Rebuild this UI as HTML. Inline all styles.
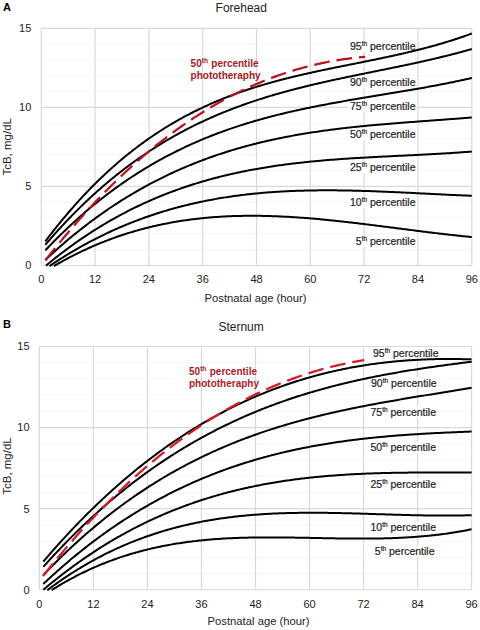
<!DOCTYPE html>
<html><head><meta charset="utf-8"><style>
html,body{margin:0;padding:0;background:#fff;}
svg{display:block;}
text{font-family:'Liberation Sans',sans-serif;}
</style></head><body>
<svg width="480" height="630" viewBox="0 0 480 630">
<rect width="480" height="630" fill="#fff"/>
<line x1="41.25" y1="249.69" x2="471.8" y2="249.69" stroke="#f5f5f5" stroke-width="1"/>
<line x1="41.25" y1="233.89" x2="471.8" y2="233.89" stroke="#f5f5f5" stroke-width="1"/>
<line x1="41.25" y1="218.08" x2="471.8" y2="218.08" stroke="#f5f5f5" stroke-width="1"/>
<line x1="41.25" y1="202.27" x2="471.8" y2="202.27" stroke="#f5f5f5" stroke-width="1"/>
<line x1="41.25" y1="170.66" x2="471.8" y2="170.66" stroke="#f5f5f5" stroke-width="1"/>
<line x1="41.25" y1="154.85" x2="471.8" y2="154.85" stroke="#f5f5f5" stroke-width="1"/>
<line x1="41.25" y1="139.05" x2="471.8" y2="139.05" stroke="#f5f5f5" stroke-width="1"/>
<line x1="41.25" y1="123.24" x2="471.8" y2="123.24" stroke="#f5f5f5" stroke-width="1"/>
<line x1="41.25" y1="91.63" x2="471.8" y2="91.63" stroke="#f5f5f5" stroke-width="1"/>
<line x1="41.25" y1="75.82" x2="471.8" y2="75.82" stroke="#f5f5f5" stroke-width="1"/>
<line x1="41.25" y1="60.01" x2="471.8" y2="60.01" stroke="#f5f5f5" stroke-width="1"/>
<line x1="41.25" y1="44.21" x2="471.8" y2="44.21" stroke="#f5f5f5" stroke-width="1"/>
<line x1="41.25" y1="265.50" x2="471.8" y2="265.50" stroke="#d9d9d9" stroke-width="1.2"/>
<line x1="41.25" y1="186.47" x2="471.8" y2="186.47" stroke="#d9d9d9" stroke-width="1.2"/>
<line x1="41.25" y1="107.43" x2="471.8" y2="107.43" stroke="#d9d9d9" stroke-width="1.2"/>
<line x1="41.25" y1="28.40" x2="471.8" y2="28.40" stroke="#d9d9d9" stroke-width="1.2"/>
<line x1="41.25" y1="28.4" x2="41.25" y2="265.5" stroke="#d9d9d9" stroke-width="1.2"/>
<line x1="95.07" y1="28.4" x2="95.07" y2="265.5" stroke="#d9d9d9" stroke-width="1.2"/>
<line x1="148.89" y1="28.4" x2="148.89" y2="265.5" stroke="#d9d9d9" stroke-width="1.2"/>
<line x1="202.71" y1="28.4" x2="202.71" y2="265.5" stroke="#d9d9d9" stroke-width="1.2"/>
<line x1="256.52" y1="28.4" x2="256.52" y2="265.5" stroke="#d9d9d9" stroke-width="1.2"/>
<line x1="310.34" y1="28.4" x2="310.34" y2="265.5" stroke="#d9d9d9" stroke-width="1.2"/>
<line x1="364.16" y1="28.4" x2="364.16" y2="265.5" stroke="#d9d9d9" stroke-width="1.2"/>
<line x1="417.98" y1="28.4" x2="417.98" y2="265.5" stroke="#d9d9d9" stroke-width="1.2"/>
<line x1="471.80" y1="28.4" x2="471.80" y2="265.5" stroke="#d9d9d9" stroke-width="1.2"/>
<rect x="348.0" y="40.1" width="69.0" height="11.5" fill="#fff"/>
<rect x="348.0" y="76.8" width="69.0" height="11.5" fill="#fff"/>
<rect x="348.0" y="100.5" width="69.0" height="11.5" fill="#fff"/>
<rect x="348.0" y="128.5" width="69.0" height="11.5" fill="#fff"/>
<rect x="348.0" y="161.8" width="69.0" height="11.5" fill="#fff"/>
<rect x="348.0" y="196.5" width="69.0" height="11.5" fill="#fff"/>
<rect x="354.0" y="235.5" width="63.0" height="11.5" fill="#fff"/>
<path d="M45.30 241.43 L46.80 239.44 L48.30 237.46 L49.81 235.51 L51.31 233.56 L52.81 231.64 L54.31 229.73 L55.81 227.84 L57.31 225.96 L58.82 224.10 L60.32 222.25 L61.82 220.42 L63.32 218.61 L64.82 216.81 L66.32 215.03 L67.83 213.26 L69.33 211.51 L70.83 209.77 L72.33 208.05 L73.83 206.34 L75.34 204.65 L76.84 202.98 L78.34 201.31 L79.84 199.67 L81.34 198.04 L82.84 196.42 L84.35 194.82 L85.85 193.23 L87.35 191.66 L88.85 190.10 L90.35 188.55 L91.85 187.02 L93.36 185.50 L94.86 184.00 L96.36 182.51 L97.86 181.04 L99.36 179.58 L100.87 178.13 L102.37 176.69 L103.87 175.27 L105.37 173.87 L106.87 172.47 L108.37 171.09 L109.88 169.73 L111.38 168.37 L112.88 167.03 L114.38 165.70 L115.88 164.39 L117.38 163.09 L118.89 161.80 L120.39 160.52 L121.89 159.25 L123.39 158.00 L124.89 156.76 L126.40 155.54 L127.90 154.32 L129.40 153.12 L130.90 151.93 L132.40 150.75 L133.90 149.58 L135.41 148.43 L136.91 147.28 L138.41 146.15 L139.91 145.03 L141.41 143.92 L142.91 142.82 L144.42 141.74 L145.92 140.66 L147.42 139.60 L148.92 138.55 L150.42 137.51 L151.93 136.48 L153.43 135.46 L154.93 134.45 L156.43 133.45 L157.93 132.46 L159.43 131.48 L160.94 130.52 L162.44 129.56 L163.94 128.62 L165.44 127.68 L166.94 126.75 L168.44 125.84 L169.95 124.93 L171.45 124.04 L172.95 123.15 L174.45 122.27 L175.95 121.41 L177.45 120.55 L178.96 119.70 L180.46 118.87 L181.96 118.04 L183.46 117.22 L184.96 116.41 L186.47 115.60 L187.97 114.81 L189.47 114.03 L190.97 113.25 L192.47 112.49 L193.97 111.73 L195.48 110.98 L196.98 110.24 L198.48 109.51 L199.98 108.78 L201.48 108.07 L202.98 107.36 L204.49 106.66 L205.99 105.97 L207.49 105.29 L208.99 104.61 L210.49 103.95 L212.00 103.29 L213.50 102.63 L215.00 101.99 L216.50 101.35 L218.00 100.72 L219.50 100.10 L221.01 99.48 L222.51 98.87 L224.01 98.27 L225.51 97.68 L227.01 97.09 L228.51 96.51 L230.02 95.94 L231.52 95.37 L233.02 94.81 L234.52 94.25 L236.02 93.70 L237.53 93.16 L239.03 92.63 L240.53 92.10 L242.03 91.57 L243.53 91.06 L245.03 90.55 L246.54 90.04 L248.04 89.54 L249.54 89.05 L251.04 88.56 L252.54 88.07 L254.04 87.60 L255.55 87.12 L257.05 86.66 L258.55 86.19 L260.05 85.74 L261.55 85.29 L263.06 84.84 L264.56 84.40 L266.06 83.96 L267.56 83.53 L269.06 83.10 L270.56 82.67 L272.07 82.25 L273.57 81.84 L275.07 81.43 L276.57 81.02 L278.07 80.62 L279.57 80.22 L281.08 79.83 L282.58 79.44 L284.08 79.05 L285.58 78.67 L287.08 78.29 L288.59 77.91 L290.09 77.54 L291.59 77.17 L293.09 76.81 L294.59 76.44 L296.09 76.08 L297.60 75.73 L299.10 75.38 L300.60 75.03 L302.10 74.68 L303.60 74.33 L305.10 73.99 L306.61 73.65 L308.11 73.31 L309.61 72.98 L311.11 72.65 L312.61 72.32 L314.12 71.99 L315.62 71.66 L317.12 71.34 L318.62 71.02 L320.12 70.70 L321.62 70.38 L323.13 70.06 L324.63 69.75 L326.13 69.43 L327.63 69.12 L329.13 68.81 L330.63 68.50 L332.14 68.19 L333.64 67.89 L335.14 67.58 L336.64 67.28 L338.14 66.97 L339.65 66.67 L341.15 66.36 L342.65 66.06 L344.15 65.76 L345.65 65.46 L347.15 65.16 L348.66 64.86 L350.16 64.56 L351.66 64.26 L353.16 63.96 L354.66 63.66 L356.16 63.36 L357.67 63.06 L359.17 62.76 L360.67 62.46 L362.17 62.15 L363.67 61.85 L365.18 61.55 L366.68 61.25 L368.18 60.94 L369.68 60.64 L371.18 60.33 L372.68 60.02 L374.19 59.72 L375.69 59.41 L377.19 59.10 L378.69 58.79 L380.19 58.47 L381.69 58.16 L383.20 57.84 L384.70 57.53 L386.20 57.21 L387.70 56.88 L389.20 56.56 L390.70 56.24 L392.21 55.91 L393.71 55.58 L395.21 55.25 L396.71 54.92 L398.21 54.58 L399.72 54.24 L401.22 53.90 L402.72 53.56 L404.22 53.21 L405.72 52.86 L407.22 52.51 L408.73 52.15 L410.23 51.79 L411.73 51.43 L413.23 51.07 L414.73 50.70 L416.23 50.33 L417.74 49.96 L419.24 49.58 L420.74 49.20 L422.24 48.81 L423.74 48.42 L425.25 48.03 L426.75 47.63 L428.25 47.23 L429.75 46.83 L431.25 46.42 L432.75 46.01 L434.26 45.59 L435.76 45.17 L437.26 44.74 L438.76 44.31 L440.26 43.87 L441.76 43.43 L443.27 42.99 L444.77 42.54 L446.27 42.08 L447.77 41.62 L449.27 41.16 L450.78 40.69 L452.28 40.21 L453.78 39.73 L455.28 39.24 L456.78 38.75 L458.28 38.25 L459.79 37.75 L461.29 37.24 L462.79 36.73 L464.29 36.20 L465.79 35.68 L467.29 35.14 L468.80 34.60 L470.30 34.06 L471.80 33.51" fill="none" stroke="#000" stroke-width="2" stroke-linejoin="round"/>
<path d="M45.30 244.77 L46.80 243.01 L48.30 241.27 L49.81 239.54 L51.31 237.83 L52.81 236.12 L54.31 234.43 L55.81 232.75 L57.31 231.09 L58.82 229.44 L60.32 227.80 L61.82 226.17 L63.32 224.56 L64.82 222.96 L66.32 221.37 L67.83 219.79 L69.33 218.23 L70.83 216.68 L72.33 215.14 L73.83 213.61 L75.34 212.10 L76.84 210.60 L78.34 209.10 L79.84 207.63 L81.34 206.16 L82.84 204.70 L84.35 203.26 L85.85 201.83 L87.35 200.41 L88.85 199.00 L90.35 197.61 L91.85 196.22 L93.36 194.85 L94.86 193.48 L96.36 192.13 L97.86 190.79 L99.36 189.46 L100.87 188.15 L102.37 186.84 L103.87 185.55 L105.37 184.26 L106.87 182.99 L108.37 181.72 L109.88 180.47 L111.38 179.23 L112.88 178.00 L114.38 176.78 L115.88 175.57 L117.38 174.37 L118.89 173.18 L120.39 172.00 L121.89 170.84 L123.39 169.68 L124.89 168.53 L126.40 167.39 L127.90 166.26 L129.40 165.15 L130.90 164.04 L132.40 162.94 L133.90 161.85 L135.41 160.77 L136.91 159.71 L138.41 158.65 L139.91 157.60 L141.41 156.56 L142.91 155.53 L144.42 154.50 L145.92 153.49 L147.42 152.49 L148.92 151.49 L150.42 150.51 L151.93 149.53 L153.43 148.57 L154.93 147.61 L156.43 146.66 L157.93 145.72 L159.43 144.79 L160.94 143.87 L162.44 142.95 L163.94 142.05 L165.44 141.15 L166.94 140.26 L168.44 139.38 L169.95 138.51 L171.45 137.65 L172.95 136.79 L174.45 135.95 L175.95 135.11 L177.45 134.28 L178.96 133.45 L180.46 132.64 L181.96 131.83 L183.46 131.03 L184.96 130.24 L186.47 129.46 L187.97 128.68 L189.47 127.91 L190.97 127.15 L192.47 126.40 L193.97 125.65 L195.48 124.91 L196.98 124.18 L198.48 123.45 L199.98 122.73 L201.48 122.02 L202.98 121.32 L204.49 120.62 L205.99 119.93 L207.49 119.25 L208.99 118.57 L210.49 117.90 L212.00 117.24 L213.50 116.58 L215.00 115.93 L216.50 115.29 L218.00 114.65 L219.50 114.02 L221.01 113.40 L222.51 112.78 L224.01 112.17 L225.51 111.56 L227.01 110.96 L228.51 110.37 L230.02 109.78 L231.52 109.20 L233.02 108.62 L234.52 108.05 L236.02 107.48 L237.53 106.92 L239.03 106.37 L240.53 105.82 L242.03 105.28 L243.53 104.74 L245.03 104.21 L246.54 103.68 L248.04 103.16 L249.54 102.64 L251.04 102.13 L252.54 101.62 L254.04 101.12 L255.55 100.62 L257.05 100.13 L258.55 99.64 L260.05 99.16 L261.55 98.68 L263.06 98.21 L264.56 97.74 L266.06 97.27 L267.56 96.81 L269.06 96.36 L270.56 95.90 L272.07 95.46 L273.57 95.01 L275.07 94.57 L276.57 94.14 L278.07 93.71 L279.57 93.28 L281.08 92.85 L282.58 92.43 L284.08 92.02 L285.58 91.61 L287.08 91.20 L288.59 90.79 L290.09 90.39 L291.59 89.99 L293.09 89.60 L294.59 89.20 L296.09 88.81 L297.60 88.43 L299.10 88.05 L300.60 87.67 L302.10 87.29 L303.60 86.92 L305.10 86.55 L306.61 86.18 L308.11 85.81 L309.61 85.45 L311.11 85.09 L312.61 84.73 L314.12 84.38 L315.62 84.03 L317.12 83.68 L318.62 83.33 L320.12 82.99 L321.62 82.64 L323.13 82.30 L324.63 81.96 L326.13 81.63 L327.63 81.29 L329.13 80.96 L330.63 80.63 L332.14 80.30 L333.64 79.97 L335.14 79.64 L336.64 79.32 L338.14 79.00 L339.65 78.68 L341.15 78.36 L342.65 78.04 L344.15 77.72 L345.65 77.40 L347.15 77.09 L348.66 76.77 L350.16 76.46 L351.66 76.15 L353.16 75.84 L354.66 75.53 L356.16 75.22 L357.67 74.91 L359.17 74.60 L360.67 74.30 L362.17 73.99 L363.67 73.68 L365.18 73.38 L366.68 73.07 L368.18 72.77 L369.68 72.46 L371.18 72.16 L372.68 71.86 L374.19 71.55 L375.69 71.25 L377.19 70.94 L378.69 70.64 L380.19 70.33 L381.69 70.03 L383.20 69.72 L384.70 69.42 L386.20 69.11 L387.70 68.81 L389.20 68.50 L390.70 68.19 L392.21 67.88 L393.71 67.58 L395.21 67.27 L396.71 66.96 L398.21 66.65 L399.72 66.33 L401.22 66.02 L402.72 65.71 L404.22 65.39 L405.72 65.07 L407.22 64.76 L408.73 64.44 L410.23 64.12 L411.73 63.79 L413.23 63.47 L414.73 63.15 L416.23 62.82 L417.74 62.49 L419.24 62.16 L420.74 61.83 L422.24 61.49 L423.74 61.16 L425.25 60.82 L426.75 60.48 L428.25 60.14 L429.75 59.80 L431.25 59.45 L432.75 59.10 L434.26 58.75 L435.76 58.40 L437.26 58.04 L438.76 57.68 L440.26 57.32 L441.76 56.96 L443.27 56.59 L444.77 56.22 L446.27 55.85 L447.77 55.48 L449.27 55.10 L450.78 54.72 L452.28 54.33 L453.78 53.95 L455.28 53.56 L456.78 53.16 L458.28 52.77 L459.79 52.37 L461.29 51.96 L462.79 51.56 L464.29 51.15 L465.79 50.73 L467.29 50.31 L468.80 49.89 L470.30 49.47 L471.80 49.04" fill="none" stroke="#000" stroke-width="2" stroke-linejoin="round"/>
<path d="M45.30 250.39 L46.80 248.80 L48.30 247.22 L49.81 245.66 L51.31 244.11 L52.81 242.57 L54.31 241.05 L55.81 239.53 L57.31 238.03 L58.82 236.54 L60.32 235.06 L61.82 233.59 L63.32 232.13 L64.82 230.69 L66.32 229.25 L67.83 227.83 L69.33 226.42 L70.83 225.02 L72.33 223.63 L73.83 222.25 L75.34 220.88 L76.84 219.52 L78.34 218.18 L79.84 216.84 L81.34 215.52 L82.84 214.20 L84.35 212.90 L85.85 211.61 L87.35 210.33 L88.85 209.06 L90.35 207.80 L91.85 206.55 L93.36 205.31 L94.86 204.08 L96.36 202.86 L97.86 201.65 L99.36 200.45 L100.87 199.26 L102.37 198.08 L103.87 196.92 L105.37 195.76 L106.87 194.61 L108.37 193.47 L109.88 192.34 L111.38 191.22 L112.88 190.11 L114.38 189.01 L115.88 187.92 L117.38 186.84 L118.89 185.77 L120.39 184.70 L121.89 183.65 L123.39 182.61 L124.89 181.57 L126.40 180.55 L127.90 179.53 L129.40 178.53 L130.90 177.53 L132.40 176.54 L133.90 175.56 L135.41 174.59 L136.91 173.62 L138.41 172.67 L139.91 171.73 L141.41 170.79 L142.91 169.86 L144.42 168.94 L145.92 168.03 L147.42 167.13 L148.92 166.24 L150.42 165.35 L151.93 164.47 L153.43 163.60 L154.93 162.74 L156.43 161.89 L157.93 161.04 L159.43 160.21 L160.94 159.38 L162.44 158.56 L163.94 157.74 L165.44 156.94 L166.94 156.14 L168.44 155.35 L169.95 154.57 L171.45 153.79 L172.95 153.03 L174.45 152.27 L175.95 151.51 L177.45 150.77 L178.96 150.03 L180.46 149.30 L181.96 148.58 L183.46 147.86 L184.96 147.15 L186.47 146.45 L187.97 145.75 L189.47 145.07 L190.97 144.38 L192.47 143.71 L193.97 143.04 L195.48 142.38 L196.98 141.73 L198.48 141.08 L199.98 140.44 L201.48 139.80 L202.98 139.17 L204.49 138.55 L205.99 137.94 L207.49 137.33 L208.99 136.72 L210.49 136.13 L212.00 135.54 L213.50 134.95 L215.00 134.37 L216.50 133.80 L218.00 133.23 L219.50 132.67 L221.01 132.11 L222.51 131.57 L224.01 131.02 L225.51 130.48 L227.01 129.95 L228.51 129.42 L230.02 128.90 L231.52 128.38 L233.02 127.87 L234.52 127.37 L236.02 126.87 L237.53 126.37 L239.03 125.88 L240.53 125.40 L242.03 124.92 L243.53 124.44 L245.03 123.97 L246.54 123.51 L248.04 123.05 L249.54 122.59 L251.04 122.14 L252.54 121.69 L254.04 121.25 L255.55 120.81 L257.05 120.38 L258.55 119.95 L260.05 119.53 L261.55 119.11 L263.06 118.69 L264.56 118.28 L266.06 117.88 L267.56 117.47 L269.06 117.07 L270.56 116.68 L272.07 116.29 L273.57 115.90 L275.07 115.52 L276.57 115.14 L278.07 114.76 L279.57 114.39 L281.08 114.02 L282.58 113.66 L284.08 113.30 L285.58 112.94 L287.08 112.59 L288.59 112.24 L290.09 111.89 L291.59 111.54 L293.09 111.20 L294.59 110.87 L296.09 110.53 L297.60 110.20 L299.10 109.87 L300.60 109.54 L302.10 109.22 L303.60 108.90 L305.10 108.58 L306.61 108.27 L308.11 107.96 L309.61 107.65 L311.11 107.34 L312.61 107.04 L314.12 106.73 L315.62 106.44 L317.12 106.14 L318.62 105.84 L320.12 105.55 L321.62 105.26 L323.13 104.97 L324.63 104.69 L326.13 104.40 L327.63 104.12 L329.13 103.84 L330.63 103.56 L332.14 103.28 L333.64 103.01 L335.14 102.74 L336.64 102.46 L338.14 102.19 L339.65 101.92 L341.15 101.66 L342.65 101.39 L344.15 101.13 L345.65 100.86 L347.15 100.60 L348.66 100.34 L350.16 100.08 L351.66 99.83 L353.16 99.57 L354.66 99.31 L356.16 99.06 L357.67 98.80 L359.17 98.55 L360.67 98.30 L362.17 98.04 L363.67 97.79 L365.18 97.54 L366.68 97.29 L368.18 97.04 L369.68 96.79 L371.18 96.54 L372.68 96.30 L374.19 96.05 L375.69 95.80 L377.19 95.55 L378.69 95.30 L380.19 95.06 L381.69 94.81 L383.20 94.56 L384.70 94.31 L386.20 94.07 L387.70 93.82 L389.20 93.57 L390.70 93.32 L392.21 93.07 L393.71 92.82 L395.21 92.57 L396.71 92.32 L398.21 92.07 L399.72 91.82 L401.22 91.57 L402.72 91.32 L404.22 91.06 L405.72 90.81 L407.22 90.55 L408.73 90.30 L410.23 90.04 L411.73 89.78 L413.23 89.52 L414.73 89.26 L416.23 89.00 L417.74 88.73 L419.24 88.47 L420.74 88.20 L422.24 87.94 L423.74 87.67 L425.25 87.40 L426.75 87.13 L428.25 86.85 L429.75 86.58 L431.25 86.30 L432.75 86.02 L434.26 85.74 L435.76 85.46 L437.26 85.17 L438.76 84.89 L440.26 84.60 L441.76 84.31 L443.27 84.01 L444.77 83.72 L446.27 83.42 L447.77 83.12 L449.27 82.82 L450.78 82.51 L452.28 82.21 L453.78 81.90 L455.28 81.58 L456.78 81.27 L458.28 80.95 L459.79 80.63 L461.29 80.31 L462.79 79.98 L464.29 79.65 L465.79 79.32 L467.29 78.98 L468.80 78.65 L470.30 78.30 L471.80 77.96" fill="none" stroke="#000" stroke-width="2" stroke-linejoin="round"/>
<path d="M45.40 259.91 L46.90 258.50 L48.40 257.10 L49.90 255.72 L51.41 254.34 L52.91 252.97 L54.41 251.61 L55.91 250.26 L57.41 248.93 L58.91 247.60 L60.41 246.28 L61.92 244.97 L63.42 243.67 L64.92 242.38 L66.42 241.11 L67.92 239.84 L69.42 238.58 L70.92 237.33 L72.43 236.08 L73.93 234.85 L75.43 233.63 L76.93 232.42 L78.43 231.22 L79.93 230.02 L81.43 228.84 L82.94 227.66 L84.44 226.50 L85.94 225.34 L87.44 224.19 L88.94 223.05 L90.44 221.92 L91.94 220.80 L93.45 219.69 L94.95 218.59 L96.45 217.49 L97.95 216.41 L99.45 215.33 L100.95 214.26 L102.45 213.20 L103.95 212.15 L105.46 211.11 L106.96 210.08 L108.46 209.05 L109.96 208.04 L111.46 207.03 L112.96 206.03 L114.46 205.04 L115.97 204.06 L117.47 203.08 L118.97 202.12 L120.47 201.16 L121.97 200.21 L123.47 199.27 L124.97 198.34 L126.48 197.41 L127.98 196.49 L129.48 195.58 L130.98 194.68 L132.48 193.79 L133.98 192.90 L135.48 192.03 L136.99 191.16 L138.49 190.30 L139.99 189.44 L141.49 188.59 L142.99 187.76 L144.49 186.92 L145.99 186.10 L147.50 185.29 L149.00 184.48 L150.50 183.68 L152.00 182.88 L153.50 182.09 L155.00 181.32 L156.50 180.54 L158.01 179.78 L159.51 179.02 L161.01 178.27 L162.51 177.53 L164.01 176.79 L165.51 176.06 L167.01 175.34 L168.52 174.63 L170.02 173.92 L171.52 173.22 L173.02 172.52 L174.52 171.83 L176.02 171.15 L177.52 170.48 L179.03 169.81 L180.53 169.15 L182.03 168.50 L183.53 167.85 L185.03 167.21 L186.53 166.57 L188.03 165.95 L189.54 165.32 L191.04 164.71 L192.54 164.10 L194.04 163.50 L195.54 162.90 L197.04 162.31 L198.54 161.73 L200.05 161.15 L201.55 160.58 L203.05 160.01 L204.55 159.45 L206.05 158.90 L207.55 158.35 L209.05 157.81 L210.55 157.27 L212.06 156.74 L213.56 156.21 L215.06 155.70 L216.56 155.18 L218.06 154.67 L219.56 154.17 L221.06 153.68 L222.57 153.19 L224.07 152.70 L225.57 152.22 L227.07 151.75 L228.57 151.28 L230.07 150.81 L231.57 150.35 L233.08 149.90 L234.58 149.45 L236.08 149.01 L237.58 148.57 L239.08 148.14 L240.58 147.71 L242.08 147.29 L243.59 146.87 L245.09 146.46 L246.59 146.05 L248.09 145.65 L249.59 145.25 L251.09 144.86 L252.59 144.47 L254.10 144.08 L255.60 143.70 L257.10 143.33 L258.60 142.96 L260.10 142.59 L261.60 142.23 L263.10 141.88 L264.61 141.52 L266.11 141.18 L267.61 140.83 L269.11 140.49 L270.61 140.16 L272.11 139.83 L273.61 139.50 L275.12 139.18 L276.62 138.86 L278.12 138.55 L279.62 138.24 L281.12 137.93 L282.62 137.63 L284.12 137.33 L285.63 137.03 L287.13 136.74 L288.63 136.46 L290.13 136.17 L291.63 135.89 L293.13 135.62 L294.63 135.35 L296.14 135.08 L297.64 134.81 L299.14 134.55 L300.64 134.29 L302.14 134.04 L303.64 133.79 L305.14 133.54 L306.65 133.29 L308.15 133.05 L309.65 132.81 L311.15 132.58 L312.65 132.35 L314.15 132.12 L315.65 131.89 L317.15 131.67 L318.66 131.45 L320.16 131.23 L321.66 131.02 L323.16 130.81 L324.66 130.60 L326.16 130.39 L327.66 130.19 L329.17 129.99 L330.67 129.79 L332.17 129.60 L333.67 129.41 L335.17 129.22 L336.67 129.03 L338.17 128.85 L339.68 128.66 L341.18 128.48 L342.68 128.31 L344.18 128.13 L345.68 127.96 L347.18 127.79 L348.68 127.62 L350.19 127.45 L351.69 127.29 L353.19 127.13 L354.69 126.97 L356.19 126.81 L357.69 126.65 L359.19 126.50 L360.70 126.35 L362.20 126.20 L363.70 126.05 L365.20 125.90 L366.70 125.75 L368.20 125.61 L369.70 125.47 L371.21 125.33 L372.71 125.19 L374.21 125.05 L375.71 124.92 L377.21 124.78 L378.71 124.65 L380.21 124.52 L381.72 124.39 L383.22 124.26 L384.72 124.13 L386.22 124.00 L387.72 123.88 L389.22 123.75 L390.72 123.63 L392.23 123.51 L393.73 123.39 L395.23 123.27 L396.73 123.15 L398.23 123.03 L399.73 122.91 L401.23 122.79 L402.74 122.68 L404.24 122.56 L405.74 122.45 L407.24 122.33 L408.74 122.22 L410.24 122.11 L411.74 121.99 L413.25 121.88 L414.75 121.77 L416.25 121.66 L417.75 121.55 L419.25 121.44 L420.75 121.33 L422.25 121.22 L423.75 121.11 L425.26 121.00 L426.76 120.89 L428.26 120.78 L429.76 120.67 L431.26 120.56 L432.76 120.45 L434.26 120.34 L435.77 120.23 L437.27 120.12 L438.77 120.01 L440.27 119.90 L441.77 119.79 L443.27 119.68 L444.77 119.57 L446.28 119.46 L447.78 119.35 L449.28 119.23 L450.78 119.12 L452.28 119.01 L453.78 118.89 L455.28 118.78 L456.79 118.66 L458.29 118.55 L459.79 118.43 L461.29 118.31 L462.79 118.19 L464.29 118.07 L465.79 117.95 L467.30 117.83 L468.80 117.71 L470.30 117.58 L471.80 117.46" fill="none" stroke="#000" stroke-width="2" stroke-linejoin="round"/>
<path d="M45.90 265.64 L47.40 264.40 L48.91 263.16 L50.41 261.93 L51.92 260.72 L53.42 259.51 L54.93 258.31 L56.43 257.12 L57.94 255.94 L59.44 254.78 L60.95 253.62 L62.45 252.47 L63.96 251.33 L65.46 250.20 L66.97 249.08 L68.47 247.96 L69.98 246.86 L71.48 245.77 L72.99 244.69 L74.49 243.61 L76.00 242.55 L77.50 241.49 L79.01 240.44 L80.51 239.41 L82.02 238.38 L83.52 237.36 L85.03 236.35 L86.53 235.34 L88.04 234.35 L89.54 233.37 L91.05 232.39 L92.55 231.42 L94.06 230.47 L95.56 229.52 L97.07 228.57 L98.57 227.64 L100.08 226.72 L101.58 225.80 L103.09 224.90 L104.59 224.00 L106.10 223.11 L107.60 222.23 L109.11 221.35 L110.61 220.49 L112.12 219.63 L113.62 218.78 L115.13 217.94 L116.63 217.11 L118.14 216.28 L119.64 215.46 L121.15 214.65 L122.65 213.85 L124.16 213.06 L125.66 212.27 L127.17 211.50 L128.67 210.73 L130.18 209.96 L131.68 209.21 L133.19 208.46 L134.69 207.72 L136.20 206.99 L137.70 206.26 L139.21 205.55 L140.71 204.84 L142.22 204.13 L143.72 203.44 L145.23 202.75 L146.73 202.07 L148.24 201.40 L149.74 200.73 L151.25 200.07 L152.75 199.42 L154.26 198.77 L155.76 198.13 L157.27 197.50 L158.77 196.88 L160.28 196.26 L161.78 195.65 L163.29 195.04 L164.79 194.44 L166.30 193.85 L167.80 193.27 L169.31 192.69 L170.81 192.12 L172.32 191.55 L173.82 191.00 L175.33 190.44 L176.83 189.90 L178.34 189.36 L179.84 188.82 L181.35 188.30 L182.85 187.78 L184.36 187.26 L185.86 186.75 L187.37 186.25 L188.87 185.75 L190.37 185.26 L191.88 184.78 L193.38 184.30 L194.89 183.83 L196.39 183.36 L197.90 182.90 L199.40 182.44 L200.91 181.99 L202.41 181.55 L203.92 181.11 L205.42 180.68 L206.93 180.25 L208.43 179.83 L209.94 179.41 L211.44 179.00 L212.95 178.59 L214.45 178.19 L215.96 177.80 L217.46 177.41 L218.97 177.02 L220.47 176.64 L221.98 176.27 L223.48 175.90 L224.99 175.53 L226.49 175.17 L228.00 174.82 L229.50 174.47 L231.01 174.12 L232.51 173.78 L234.02 173.44 L235.52 173.11 L237.03 172.79 L238.53 172.46 L240.04 172.15 L241.54 171.83 L243.05 171.53 L244.55 171.22 L246.06 170.92 L247.56 170.63 L249.07 170.34 L250.57 170.05 L252.08 169.77 L253.58 169.49 L255.09 169.22 L256.59 168.95 L258.10 168.68 L259.60 168.42 L261.11 168.16 L262.61 167.91 L264.12 167.66 L265.62 167.41 L267.13 167.17 L268.63 166.93 L270.14 166.70 L271.64 166.46 L273.15 166.24 L274.65 166.01 L276.16 165.79 L277.66 165.58 L279.17 165.36 L280.67 165.15 L282.18 164.95 L283.68 164.74 L285.19 164.54 L286.69 164.35 L288.20 164.15 L289.70 163.96 L291.21 163.78 L292.71 163.59 L294.22 163.41 L295.72 163.23 L297.23 163.06 L298.73 162.89 L300.24 162.72 L301.74 162.55 L303.25 162.39 L304.75 162.23 L306.26 162.07 L307.76 161.91 L309.27 161.76 L310.77 161.61 L312.28 161.46 L313.78 161.32 L315.29 161.17 L316.79 161.03 L318.30 160.90 L319.80 160.76 L321.31 160.63 L322.81 160.50 L324.32 160.37 L325.82 160.24 L327.33 160.12 L328.83 159.99 L330.33 159.87 L331.84 159.75 L333.34 159.64 L334.85 159.52 L336.35 159.41 L337.86 159.30 L339.36 159.19 L340.87 159.08 L342.37 158.98 L343.88 158.87 L345.38 158.77 L346.89 158.67 L348.39 158.57 L349.90 158.47 L351.40 158.37 L352.91 158.28 L354.41 158.18 L355.92 158.09 L357.42 158.00 L358.93 157.91 L360.43 157.82 L361.94 157.73 L363.44 157.65 L364.95 157.56 L366.45 157.48 L367.96 157.39 L369.46 157.31 L370.97 157.23 L372.47 157.15 L373.98 157.07 L375.48 156.99 L376.99 156.91 L378.49 156.83 L380.00 156.75 L381.50 156.68 L383.01 156.60 L384.51 156.53 L386.02 156.45 L387.52 156.38 L389.03 156.30 L390.53 156.23 L392.04 156.15 L393.54 156.08 L395.05 156.01 L396.55 155.93 L398.06 155.86 L399.56 155.79 L401.07 155.71 L402.57 155.64 L404.08 155.57 L405.58 155.49 L407.09 155.42 L408.59 155.35 L410.10 155.27 L411.60 155.20 L413.11 155.13 L414.61 155.05 L416.12 154.98 L417.62 154.90 L419.13 154.82 L420.63 154.75 L422.14 154.67 L423.64 154.59 L425.15 154.52 L426.65 154.44 L428.16 154.36 L429.66 154.28 L431.17 154.20 L432.67 154.11 L434.18 154.03 L435.68 153.95 L437.19 153.86 L438.69 153.78 L440.20 153.69 L441.70 153.60 L443.21 153.51 L444.71 153.42 L446.22 153.33 L447.72 153.24 L449.23 153.14 L450.73 153.05 L452.24 152.95 L453.74 152.85 L455.25 152.75 L456.75 152.65 L458.26 152.55 L459.76 152.44 L461.27 152.34 L462.77 152.23 L464.28 152.12 L465.78 152.01 L467.29 151.89 L468.79 151.78 L470.30 151.66 L471.80 151.54" fill="none" stroke="#000" stroke-width="2" stroke-linejoin="round"/>
<path d="M49.50 266.12 L51.00 265.11 L52.51 264.10 L54.01 263.10 L55.51 262.11 L57.01 261.13 L58.52 260.16 L60.02 259.20 L61.52 258.24 L63.03 257.30 L64.53 256.36 L66.03 255.43 L67.53 254.51 L69.04 253.59 L70.54 252.69 L72.04 251.79 L73.55 250.91 L75.05 250.03 L76.55 249.15 L78.05 248.29 L79.56 247.43 L81.06 246.59 L82.56 245.75 L84.07 244.92 L85.57 244.09 L87.07 243.28 L88.57 242.47 L90.08 241.67 L91.58 240.88 L93.08 240.09 L94.59 239.31 L96.09 238.55 L97.59 237.78 L99.09 237.03 L100.60 236.28 L102.10 235.55 L103.60 234.81 L105.11 234.09 L106.61 233.38 L108.11 232.67 L109.61 231.97 L111.12 231.27 L112.62 230.58 L114.12 229.91 L115.63 229.23 L117.13 228.57 L118.63 227.91 L120.13 227.26 L121.64 226.62 L123.14 225.98 L124.64 225.35 L126.15 224.73 L127.65 224.11 L129.15 223.50 L130.65 222.90 L132.16 222.31 L133.66 221.72 L135.16 221.14 L136.67 220.56 L138.17 220.00 L139.67 219.44 L141.17 218.88 L142.68 218.33 L144.18 217.79 L145.68 217.26 L147.19 216.73 L148.69 216.21 L150.19 215.69 L151.69 215.18 L153.20 214.68 L154.70 214.19 L156.20 213.70 L157.70 213.21 L159.21 212.74 L160.71 212.26 L162.21 211.80 L163.72 211.34 L165.22 210.89 L166.72 210.44 L168.22 210.00 L169.73 209.57 L171.23 209.14 L172.73 208.72 L174.24 208.30 L175.74 207.89 L177.24 207.48 L178.74 207.08 L180.25 206.69 L181.75 206.30 L183.25 205.92 L184.76 205.54 L186.26 205.17 L187.76 204.81 L189.26 204.45 L190.77 204.09 L192.27 203.74 L193.77 203.40 L195.28 203.06 L196.78 202.73 L198.28 202.40 L199.78 202.08 L201.29 201.76 L202.79 201.45 L204.29 201.14 L205.80 200.84 L207.30 200.55 L208.80 200.26 L210.30 199.97 L211.81 199.69 L213.31 199.41 L214.81 199.14 L216.32 198.87 L217.82 198.61 L219.32 198.36 L220.82 198.11 L222.33 197.86 L223.83 197.62 L225.33 197.38 L226.84 197.15 L228.34 196.92 L229.84 196.69 L231.34 196.47 L232.85 196.26 L234.35 196.05 L235.85 195.84 L237.36 195.64 L238.86 195.45 L240.36 195.25 L241.86 195.07 L243.37 194.88 L244.87 194.70 L246.37 194.53 L247.88 194.35 L249.38 194.19 L250.88 194.02 L252.38 193.87 L253.89 193.71 L255.39 193.56 L256.89 193.41 L258.40 193.27 L259.90 193.13 L261.40 192.99 L262.90 192.86 L264.41 192.74 L265.91 192.61 L267.41 192.49 L268.92 192.37 L270.42 192.26 L271.92 192.15 L273.42 192.05 L274.93 191.94 L276.43 191.85 L277.93 191.75 L279.44 191.66 L280.94 191.57 L282.44 191.49 L283.94 191.40 L285.45 191.33 L286.95 191.25 L288.45 191.18 L289.96 191.11 L291.46 191.04 L292.96 190.98 L294.46 190.92 L295.97 190.87 L297.47 190.81 L298.97 190.76 L300.48 190.72 L301.98 190.67 L303.48 190.63 L304.98 190.59 L306.49 190.55 L307.99 190.52 L309.49 190.49 L311.00 190.46 L312.50 190.44 L314.00 190.42 L315.50 190.40 L317.01 190.38 L318.51 190.37 L320.01 190.35 L321.52 190.34 L323.02 190.34 L324.52 190.33 L326.02 190.33 L327.53 190.33 L329.03 190.33 L330.53 190.33 L332.04 190.34 L333.54 190.35 L335.04 190.36 L336.54 190.37 L338.05 190.39 L339.55 190.41 L341.05 190.43 L342.56 190.45 L344.06 190.47 L345.56 190.49 L347.06 190.52 L348.57 190.55 L350.07 190.58 L351.57 190.61 L353.08 190.65 L354.58 190.68 L356.08 190.72 L357.58 190.76 L359.09 190.80 L360.59 190.84 L362.09 190.88 L363.60 190.93 L365.10 190.98 L366.60 191.02 L368.10 191.07 L369.61 191.12 L371.11 191.18 L372.61 191.23 L374.11 191.28 L375.62 191.34 L377.12 191.40 L378.62 191.45 L380.13 191.51 L381.63 191.57 L383.13 191.63 L384.63 191.70 L386.14 191.76 L387.64 191.82 L389.14 191.89 L390.65 191.95 L392.15 192.02 L393.65 192.09 L395.15 192.16 L396.66 192.22 L398.16 192.29 L399.66 192.36 L401.17 192.43 L402.67 192.51 L404.17 192.58 L405.67 192.65 L407.18 192.72 L408.68 192.80 L410.18 192.87 L411.69 192.94 L413.19 193.02 L414.69 193.09 L416.19 193.17 L417.70 193.24 L419.20 193.32 L420.70 193.39 L422.21 193.47 L423.71 193.55 L425.21 193.62 L426.71 193.70 L428.22 193.77 L429.72 193.85 L431.22 193.92 L432.73 194.00 L434.23 194.07 L435.73 194.15 L437.23 194.22 L438.74 194.30 L440.24 194.37 L441.74 194.45 L443.25 194.52 L444.75 194.59 L446.25 194.67 L447.75 194.74 L449.26 194.81 L450.76 194.88 L452.26 194.95 L453.77 195.02 L455.27 195.09 L456.77 195.16 L458.27 195.23 L459.78 195.30 L461.28 195.36 L462.78 195.43 L464.29 195.49 L465.79 195.56 L467.29 195.62 L468.79 195.68 L470.30 195.74 L471.80 195.80" fill="none" stroke="#000" stroke-width="2" stroke-linejoin="round"/>
<path d="M54.00 266.07 L55.50 265.19 L57.01 264.32 L58.51 263.46 L60.01 262.61 L61.51 261.77 L63.02 260.94 L64.52 260.12 L66.02 259.30 L67.53 258.50 L69.03 257.70 L70.53 256.92 L72.03 256.14 L73.54 255.37 L75.04 254.61 L76.54 253.86 L78.05 253.12 L79.55 252.39 L81.05 251.66 L82.55 250.95 L84.06 250.24 L85.56 249.54 L87.06 248.85 L88.57 248.17 L90.07 247.50 L91.57 246.83 L93.07 246.18 L94.58 245.53 L96.08 244.89 L97.58 244.26 L99.09 243.63 L100.59 243.02 L102.09 242.41 L103.59 241.81 L105.10 241.22 L106.60 240.64 L108.10 240.07 L109.61 239.50 L111.11 238.94 L112.61 238.39 L114.12 237.85 L115.62 237.31 L117.12 236.79 L118.62 236.27 L120.13 235.75 L121.63 235.25 L123.13 234.75 L124.64 234.26 L126.14 233.78 L127.64 233.31 L129.14 232.84 L130.65 232.38 L132.15 231.93 L133.65 231.48 L135.16 231.04 L136.66 230.61 L138.16 230.19 L139.66 229.77 L141.17 229.36 L142.67 228.96 L144.17 228.57 L145.68 228.18 L147.18 227.80 L148.68 227.42 L150.18 227.05 L151.69 226.69 L153.19 226.34 L154.69 225.99 L156.20 225.65 L157.70 225.31 L159.20 224.99 L160.70 224.67 L162.21 224.35 L163.71 224.04 L165.21 223.74 L166.72 223.44 L168.22 223.16 L169.72 222.87 L171.22 222.60 L172.73 222.33 L174.23 222.06 L175.73 221.80 L177.24 221.55 L178.74 221.30 L180.24 221.06 L181.74 220.83 L183.25 220.60 L184.75 220.38 L186.25 220.16 L187.76 219.95 L189.26 219.75 L190.76 219.55 L192.26 219.35 L193.77 219.17 L195.27 218.98 L196.77 218.81 L198.28 218.64 L199.78 218.47 L201.28 218.31 L202.78 218.16 L204.29 218.01 L205.79 217.86 L207.29 217.72 L208.80 217.59 L210.30 217.46 L211.80 217.34 L213.31 217.22 L214.81 217.10 L216.31 217.00 L217.81 216.89 L219.32 216.79 L220.82 216.70 L222.32 216.61 L223.83 216.53 L225.33 216.45 L226.83 216.37 L228.33 216.30 L229.84 216.24 L231.34 216.18 L232.84 216.12 L234.35 216.07 L235.85 216.02 L237.35 215.98 L238.85 215.94 L240.36 215.91 L241.86 215.88 L243.36 215.85 L244.87 215.83 L246.37 215.81 L247.87 215.80 L249.37 215.79 L250.88 215.79 L252.38 215.79 L253.88 215.79 L255.39 215.80 L256.89 215.81 L258.39 215.83 L259.89 215.84 L261.40 215.87 L262.90 215.89 L264.40 215.92 L265.91 215.96 L267.41 215.99 L268.91 216.04 L270.41 216.08 L271.92 216.13 L273.42 216.18 L274.92 216.23 L276.43 216.29 L277.93 216.35 L279.43 216.42 L280.93 216.49 L282.44 216.56 L283.94 216.63 L285.44 216.71 L286.95 216.79 L288.45 216.87 L289.95 216.96 L291.45 217.05 L292.96 217.14 L294.46 217.24 L295.96 217.34 L297.47 217.44 L298.97 217.54 L300.47 217.65 L301.97 217.76 L303.48 217.87 L304.98 217.98 L306.48 218.10 L307.99 218.22 L309.49 218.34 L310.99 218.46 L312.49 218.59 L314.00 218.72 L315.50 218.85 L317.00 218.98 L318.51 219.12 L320.01 219.26 L321.51 219.40 L323.02 219.54 L324.52 219.68 L326.02 219.83 L327.52 219.98 L329.03 220.13 L330.53 220.28 L332.03 220.43 L333.54 220.59 L335.04 220.75 L336.54 220.90 L338.04 221.06 L339.55 221.23 L341.05 221.39 L342.55 221.56 L344.06 221.72 L345.56 221.89 L347.06 222.06 L348.56 222.23 L350.07 222.40 L351.57 222.58 L353.07 222.75 L354.58 222.93 L356.08 223.11 L357.58 223.29 L359.08 223.47 L360.59 223.65 L362.09 223.83 L363.59 224.01 L365.10 224.19 L366.60 224.38 L368.10 224.56 L369.60 224.75 L371.11 224.94 L372.61 225.13 L374.11 225.31 L375.62 225.50 L377.12 225.69 L378.62 225.88 L380.12 226.07 L381.63 226.26 L383.13 226.46 L384.63 226.65 L386.14 226.84 L387.64 227.03 L389.14 227.23 L390.64 227.42 L392.15 227.61 L393.65 227.81 L395.15 228.00 L396.66 228.19 L398.16 228.39 L399.66 228.58 L401.16 228.78 L402.67 228.97 L404.17 229.16 L405.67 229.36 L407.18 229.55 L408.68 229.74 L410.18 229.93 L411.68 230.13 L413.19 230.32 L414.69 230.51 L416.19 230.70 L417.70 230.89 L419.20 231.08 L420.70 231.27 L422.21 231.46 L423.71 231.65 L425.21 231.83 L426.71 232.02 L428.22 232.21 L429.72 232.39 L431.22 232.57 L432.73 232.76 L434.23 232.94 L435.73 233.12 L437.23 233.30 L438.74 233.48 L440.24 233.66 L441.74 233.83 L443.25 234.01 L444.75 234.18 L446.25 234.36 L447.75 234.53 L449.26 234.70 L450.76 234.87 L452.26 235.03 L453.77 235.20 L455.27 235.36 L456.77 235.53 L458.27 235.69 L459.78 235.85 L461.28 236.00 L462.78 236.16 L464.29 236.31 L465.79 236.47 L467.29 236.62 L468.79 236.77 L470.30 236.91 L471.80 237.06" fill="none" stroke="#000" stroke-width="2" stroke-linejoin="round"/>
<path d="M45.40 260.38 L46.90 258.46 L48.40 256.55 L49.90 254.66 L51.41 252.77 L52.91 250.89 L54.41 249.03 L55.91 247.17 L57.41 245.32 L58.91 243.49 L60.41 241.66 L61.92 239.85 L63.42 238.04 L64.92 236.25 L66.42 234.46 L67.92 232.69 L69.42 230.92 L70.92 229.17 L72.43 227.42 L73.93 225.69 L75.43 223.96 L76.93 222.25 L78.43 220.54 L79.93 218.85 L81.43 217.16 L82.94 215.49 L84.44 213.82 L85.94 212.17 L87.44 210.52 L88.94 208.89 L90.44 207.26 L91.94 205.65 L93.45 204.04 L94.95 202.44 L96.45 200.86 L97.95 199.28 L99.45 197.71 L100.95 196.15 L102.45 194.61 L103.95 193.07 L105.46 191.54 L106.96 190.02 L108.46 188.51 L109.96 187.01 L111.46 185.52 L112.96 184.04 L114.46 182.57 L115.97 181.11 L117.47 179.66 L118.97 178.22 L120.47 176.78 L121.97 175.36 L123.47 173.95 L124.97 172.54 L126.48 171.15 L127.98 169.76 L129.48 168.38 L130.98 167.02 L132.48 165.66 L133.98 164.31 L135.48 162.97 L136.99 161.64 L138.49 160.32 L139.99 159.01 L141.49 157.71 L142.99 156.42 L144.49 155.13 L145.99 153.86 L147.50 152.59 L149.00 151.34 L150.50 150.09 L152.00 148.85 L153.50 147.62 L155.00 146.40 L156.50 145.19 L158.01 143.99 L159.51 142.80 L161.01 141.61 L162.51 140.44 L164.01 139.27 L165.51 138.11 L167.01 136.97 L168.52 135.83 L170.02 134.70 L171.52 133.58 L173.02 132.46 L174.52 131.36 L176.02 130.27 L177.52 129.18 L179.03 128.10 L180.53 127.03 L182.03 125.97 L183.53 124.92 L185.03 123.88 L186.53 122.85 L188.03 121.82 L189.54 120.81 L191.04 119.80 L192.54 118.80 L194.04 117.81 L195.54 116.83 L197.04 115.85 L198.54 114.89 L200.05 113.93 L201.55 112.99 L203.05 112.05 L204.55 111.12 L206.05 110.19 L207.55 109.28 L209.05 108.37 L210.55 107.48 L212.06 106.59 L213.56 105.71 L215.06 104.84 L216.56 103.97 L218.06 103.12 L219.56 102.27 L221.06 101.43 L222.57 100.60 L224.07 99.78 L225.57 98.97 L227.07 98.16 L228.57 97.36 L230.07 96.58 L231.57 95.79 L233.08 95.02 L234.58 94.26 L236.08 93.50 L237.58 92.75 L239.08 92.01 L240.58 91.28 L242.08 90.55 L243.59 89.84 L245.09 89.13 L246.59 88.43 L248.09 87.74 L249.59 87.05 L251.09 86.38 L252.59 85.71 L254.10 85.05 L255.60 84.39 L257.10 83.75 L258.60 83.11 L260.10 82.48 L261.60 81.86 L263.10 81.25 L264.61 80.64 L266.11 80.04 L267.61 79.45 L269.11 78.87 L270.61 78.30 L272.11 77.73 L273.61 77.17 L275.12 76.62 L276.62 76.07 L278.12 75.54 L279.62 75.01 L281.12 74.49 L282.62 73.97 L284.12 73.46 L285.63 72.97 L287.13 72.47 L288.63 71.99 L290.13 71.51 L291.63 71.04 L293.13 70.58 L294.63 70.13 L296.14 69.68 L297.64 69.24 L299.14 68.81 L300.64 68.39 L302.14 67.97 L303.64 67.56 L305.14 67.16 L306.65 66.76 L308.15 66.37 L309.65 65.99 L311.15 65.62 L312.65 65.25 L314.15 64.89 L315.65 64.54 L317.15 64.19 L318.66 63.86 L320.16 63.53 L321.66 63.20 L323.16 62.89 L324.66 62.58 L326.16 62.27 L327.66 61.98 L329.17 61.69 L330.67 61.41 L332.17 61.13 L333.67 60.87 L335.17 60.61 L336.67 60.35 L338.17 60.11 L339.68 59.87 L341.18 59.63 L342.68 59.41 L344.18 59.19 L345.68 58.97 L347.18 58.77 L348.68 58.57 L350.19 58.38 L351.69 58.19 L353.19 58.01 L354.69 57.84 L356.19 57.68 L357.69 57.52 L359.19 57.37 L360.70 57.22 L362.20 57.08 L363.70 56.95 L365.20 56.82" fill="none" stroke="#b81424" stroke-width="2.25" stroke-dasharray="15.7 6.9"/>
<text x="31.3" y="269.40" text-anchor="end" font-size="11" fill="#222">0</text>
<text x="31.3" y="190.37" text-anchor="end" font-size="11" fill="#222">5</text>
<text x="31.3" y="111.33" text-anchor="end" font-size="11" fill="#222">10</text>
<text x="31.3" y="32.30" text-anchor="end" font-size="11" fill="#222">15</text>
<text x="41.25" y="283" text-anchor="middle" font-size="11" fill="#222">0</text>
<text x="95.07" y="283" text-anchor="middle" font-size="11" fill="#222">12</text>
<text x="148.89" y="283" text-anchor="middle" font-size="11" fill="#222">24</text>
<text x="202.71" y="283" text-anchor="middle" font-size="11" fill="#222">36</text>
<text x="256.52" y="283" text-anchor="middle" font-size="11" fill="#222">48</text>
<text x="310.34" y="283" text-anchor="middle" font-size="11" fill="#222">60</text>
<text x="364.16" y="283" text-anchor="middle" font-size="11" fill="#222">72</text>
<text x="417.98" y="283" text-anchor="middle" font-size="11" fill="#222">84</text>
<text x="471.80" y="283" text-anchor="middle" font-size="11" fill="#222">96</text>
<text x="215.6" y="11.6" font-size="12" fill="#222">Forehead</text>
<text x="204.6" y="302" font-size="11.25" fill="#222">Postnatal age (hour)</text>
<text transform="translate(10.7,146.8) rotate(-90)" text-anchor="middle" font-size="11.5" fill="#222">TcB, mg/dL</text>
<text x="3" y="10.8" font-size="11" font-weight="bold" fill="#000">A</text>
<text x="415.5" y="49.6" text-anchor="end" font-size="10.5" fill="#262626" stroke="#262626" stroke-width="0.22">95<tspan font-size="6.5" dy="-3.9">th</tspan><tspan dy="3.9"> percentile</tspan></text>
<text x="415.5" y="86.3" text-anchor="end" font-size="10.5" fill="#262626" stroke="#262626" stroke-width="0.22">90<tspan font-size="6.5" dy="-3.9">th</tspan><tspan dy="3.9"> percentile</tspan></text>
<text x="415.5" y="110" text-anchor="end" font-size="10.5" fill="#262626" stroke="#262626" stroke-width="0.22">75<tspan font-size="6.5" dy="-3.9">th</tspan><tspan dy="3.9"> percentile</tspan></text>
<text x="415.5" y="138" text-anchor="end" font-size="10.5" fill="#262626" stroke="#262626" stroke-width="0.22">50<tspan font-size="6.5" dy="-3.9">th</tspan><tspan dy="3.9"> percentile</tspan></text>
<text x="415.5" y="171.3" text-anchor="end" font-size="10.5" fill="#262626" stroke="#262626" stroke-width="0.22">25<tspan font-size="6.5" dy="-3.9">th</tspan><tspan dy="3.9"> percentile</tspan></text>
<text x="415.5" y="206" text-anchor="end" font-size="10.5" fill="#262626" stroke="#262626" stroke-width="0.22">10<tspan font-size="6.5" dy="-3.9">th</tspan><tspan dy="3.9"> percentile</tspan></text>
<text x="415.5" y="245" text-anchor="end" font-size="10.5" fill="#262626" stroke="#262626" stroke-width="0.22">5<tspan font-size="6.5" dy="-3.9">th</tspan><tspan dy="3.9"> percentile</tspan></text>
<text x="190.6" y="66.6" font-size="10" font-weight="bold" fill="#a41a26">50<tspan font-size="6.6" dy="-4.1">th</tspan><tspan dy="4.1" dx="0.6"> percentile</tspan></text>
<text x="190.6" y="79.2" font-size="10" font-weight="bold" fill="#a41a26">phototheraphy</text>
<line x1="39.4" y1="573.53" x2="471.6" y2="573.53" stroke="#f5f5f5" stroke-width="1"/>
<line x1="39.4" y1="557.32" x2="471.6" y2="557.32" stroke="#f5f5f5" stroke-width="1"/>
<line x1="39.4" y1="541.10" x2="471.6" y2="541.10" stroke="#f5f5f5" stroke-width="1"/>
<line x1="39.4" y1="524.88" x2="471.6" y2="524.88" stroke="#f5f5f5" stroke-width="1"/>
<line x1="39.4" y1="492.45" x2="471.6" y2="492.45" stroke="#f5f5f5" stroke-width="1"/>
<line x1="39.4" y1="476.23" x2="471.6" y2="476.23" stroke="#f5f5f5" stroke-width="1"/>
<line x1="39.4" y1="460.02" x2="471.6" y2="460.02" stroke="#f5f5f5" stroke-width="1"/>
<line x1="39.4" y1="443.80" x2="471.6" y2="443.80" stroke="#f5f5f5" stroke-width="1"/>
<line x1="39.4" y1="411.37" x2="471.6" y2="411.37" stroke="#f5f5f5" stroke-width="1"/>
<line x1="39.4" y1="395.15" x2="471.6" y2="395.15" stroke="#f5f5f5" stroke-width="1"/>
<line x1="39.4" y1="378.93" x2="471.6" y2="378.93" stroke="#f5f5f5" stroke-width="1"/>
<line x1="39.4" y1="362.72" x2="471.6" y2="362.72" stroke="#f5f5f5" stroke-width="1"/>
<line x1="39.4" y1="589.75" x2="471.6" y2="589.75" stroke="#d9d9d9" stroke-width="1.2"/>
<line x1="39.4" y1="508.67" x2="471.6" y2="508.67" stroke="#d9d9d9" stroke-width="1.2"/>
<line x1="39.4" y1="427.58" x2="471.6" y2="427.58" stroke="#d9d9d9" stroke-width="1.2"/>
<line x1="39.4" y1="346.50" x2="471.6" y2="346.50" stroke="#d9d9d9" stroke-width="1.2"/>
<line x1="39.40" y1="346.5" x2="39.40" y2="589.75" stroke="#d9d9d9" stroke-width="1.2"/>
<line x1="93.43" y1="346.5" x2="93.43" y2="589.75" stroke="#d9d9d9" stroke-width="1.2"/>
<line x1="147.45" y1="346.5" x2="147.45" y2="589.75" stroke="#d9d9d9" stroke-width="1.2"/>
<line x1="201.48" y1="346.5" x2="201.48" y2="589.75" stroke="#d9d9d9" stroke-width="1.2"/>
<line x1="255.50" y1="346.5" x2="255.50" y2="589.75" stroke="#d9d9d9" stroke-width="1.2"/>
<line x1="309.52" y1="346.5" x2="309.52" y2="589.75" stroke="#d9d9d9" stroke-width="1.2"/>
<line x1="363.55" y1="346.5" x2="363.55" y2="589.75" stroke="#d9d9d9" stroke-width="1.2"/>
<line x1="417.58" y1="346.5" x2="417.58" y2="589.75" stroke="#d9d9d9" stroke-width="1.2"/>
<line x1="471.60" y1="346.5" x2="471.60" y2="589.75" stroke="#d9d9d9" stroke-width="1.2"/>
<rect x="371.0" y="347.3" width="69.0" height="11.5" fill="#fff"/>
<rect x="369.1" y="377.0" width="69.0" height="11.5" fill="#fff"/>
<rect x="368.5" y="406.3" width="69.0" height="11.5" fill="#fff"/>
<rect x="368.5" y="441.8" width="69.0" height="11.5" fill="#fff"/>
<rect x="368.5" y="478.0" width="69.0" height="11.5" fill="#fff"/>
<rect x="368.5" y="521.3" width="69.0" height="11.5" fill="#fff"/>
<rect x="373.0" y="545.7" width="63.0" height="11.5" fill="#fff"/>
<path d="M43.30 561.58 L44.80 559.82 L46.31 558.07 L47.81 556.33 L49.31 554.60 L50.81 552.88 L52.32 551.17 L53.82 549.47 L55.32 547.77 L56.83 546.09 L58.33 544.41 L59.83 542.75 L61.33 541.09 L62.84 539.44 L64.34 537.80 L65.84 536.18 L67.34 534.56 L68.85 532.94 L70.35 531.34 L71.85 529.75 L73.36 528.17 L74.86 526.59 L76.36 525.03 L77.86 523.47 L79.37 521.92 L80.87 520.38 L82.37 518.85 L83.88 517.33 L85.38 515.82 L86.88 514.32 L88.38 512.82 L89.89 511.34 L91.39 509.86 L92.89 508.39 L94.40 506.93 L95.90 505.48 L97.40 504.04 L98.90 502.60 L100.41 501.18 L101.91 499.76 L103.41 498.36 L104.92 496.96 L106.42 495.57 L107.92 494.19 L109.42 492.81 L110.93 491.45 L112.43 490.09 L113.93 488.74 L115.43 487.40 L116.94 486.07 L118.44 484.75 L119.94 483.44 L121.45 482.13 L122.95 480.83 L124.45 479.54 L125.95 478.26 L127.46 476.99 L128.96 475.73 L130.46 474.47 L131.97 473.22 L133.47 471.98 L134.97 470.75 L136.47 469.53 L137.98 468.31 L139.48 467.10 L140.98 465.90 L142.49 464.71 L143.99 463.53 L145.49 462.35 L146.99 461.19 L148.50 460.03 L150.00 458.88 L151.50 457.73 L153.00 456.60 L154.51 455.47 L156.01 454.35 L157.51 453.24 L159.02 452.13 L160.52 451.04 L162.02 449.95 L163.52 448.87 L165.03 447.80 L166.53 446.73 L168.03 445.67 L169.54 444.62 L171.04 443.58 L172.54 442.54 L174.04 441.52 L175.55 440.50 L177.05 439.49 L178.55 438.48 L180.06 437.48 L181.56 436.49 L183.06 435.51 L184.56 434.54 L186.07 433.57 L187.57 432.61 L189.07 431.66 L190.58 430.71 L192.08 429.78 L193.58 428.84 L195.08 427.92 L196.59 427.01 L198.09 426.10 L199.59 425.20 L201.09 424.30 L202.60 423.41 L204.10 422.53 L205.60 421.66 L207.11 420.80 L208.61 419.94 L210.11 419.09 L211.61 418.24 L213.12 417.40 L214.62 416.57 L216.12 415.75 L217.63 414.93 L219.13 414.12 L220.63 413.32 L222.13 412.53 L223.64 411.74 L225.14 410.96 L226.64 410.18 L228.15 409.41 L229.65 408.65 L231.15 407.90 L232.65 407.15 L234.16 406.41 L235.66 405.67 L237.16 404.95 L238.66 404.22 L240.17 403.51 L241.67 402.80 L243.17 402.10 L244.68 401.41 L246.18 400.72 L247.68 400.04 L249.18 399.36 L250.69 398.69 L252.19 398.03 L253.69 397.37 L255.20 396.73 L256.70 396.08 L258.20 395.45 L259.70 394.82 L261.21 394.19 L262.71 393.58 L264.21 392.96 L265.72 392.36 L267.22 391.76 L268.72 391.17 L270.22 390.58 L271.73 390.00 L273.23 389.43 L274.73 388.86 L276.24 388.30 L277.74 387.74 L279.24 387.20 L280.74 386.65 L282.25 386.11 L283.75 385.58 L285.25 385.06 L286.75 384.54 L288.26 384.03 L289.76 383.52 L291.26 383.02 L292.77 382.52 L294.27 382.03 L295.77 381.55 L297.27 381.07 L298.78 380.60 L300.28 380.13 L301.78 379.67 L303.29 379.22 L304.79 378.77 L306.29 378.32 L307.79 377.89 L309.30 377.45 L310.80 377.03 L312.30 376.61 L313.81 376.19 L315.31 375.78 L316.81 375.38 L318.31 374.98 L319.82 374.59 L321.32 374.20 L322.82 373.82 L324.32 373.44 L325.83 373.07 L327.33 372.70 L328.83 372.34 L330.34 371.99 L331.84 371.64 L333.34 371.29 L334.84 370.95 L336.35 370.62 L337.85 370.29 L339.35 369.96 L340.86 369.65 L342.36 369.33 L343.86 369.02 L345.36 368.72 L346.87 368.42 L348.37 368.13 L349.87 367.84 L351.38 367.56 L352.88 367.28 L354.38 367.01 L355.88 366.74 L357.39 366.48 L358.89 366.22 L360.39 365.97 L361.90 365.72 L363.40 365.48 L364.90 365.24 L366.40 365.01 L367.91 364.78 L369.41 364.55 L370.91 364.34 L372.41 364.12 L373.92 363.91 L375.42 363.71 L376.92 363.51 L378.43 363.31 L379.93 363.12 L381.43 362.93 L382.93 362.75 L384.44 362.58 L385.94 362.40 L387.44 362.24 L388.95 362.07 L390.45 361.91 L391.95 361.76 L393.45 361.61 L394.96 361.46 L396.46 361.32 L397.96 361.18 L399.47 361.05 L400.97 360.92 L402.47 360.80 L403.97 360.68 L405.48 360.57 L406.98 360.45 L408.48 360.35 L409.98 360.24 L411.49 360.15 L412.99 360.05 L414.49 359.96 L416.00 359.88 L417.50 359.79 L419.00 359.72 L420.50 359.64 L422.01 359.57 L423.51 359.51 L425.01 359.45 L426.52 359.39 L428.02 359.33 L429.52 359.28 L431.02 359.24 L432.53 359.20 L434.03 359.16 L435.53 359.12 L437.04 359.09 L438.54 359.07 L440.04 359.04 L441.54 359.02 L443.05 359.01 L444.55 359.00 L446.05 358.99 L447.56 358.98 L449.06 358.98 L450.56 358.99 L452.06 358.99 L453.57 359.00 L455.07 359.02 L456.57 359.03 L458.07 359.05 L459.58 359.08 L461.08 359.11 L462.58 359.14 L464.09 359.17 L465.59 359.21 L467.09 359.25 L468.59 359.29 L470.10 359.34 L471.60 359.39" fill="none" stroke="#000" stroke-width="2" stroke-linejoin="round"/>
<path d="M43.30 566.81 L44.80 565.13 L46.31 563.47 L47.81 561.81 L49.31 560.17 L50.81 558.53 L52.32 556.90 L53.82 555.28 L55.32 553.67 L56.83 552.08 L58.33 550.49 L59.83 548.91 L61.33 547.34 L62.84 545.77 L64.34 544.22 L65.84 542.68 L67.34 541.15 L68.85 539.62 L70.35 538.11 L71.85 536.60 L73.36 535.11 L74.86 533.62 L76.36 532.14 L77.86 530.67 L79.37 529.21 L80.87 527.76 L82.37 526.32 L83.88 524.88 L85.38 523.46 L86.88 522.04 L88.38 520.64 L89.89 519.24 L91.39 517.85 L92.89 516.47 L94.40 515.10 L95.90 513.73 L97.40 512.38 L98.90 511.03 L100.41 509.70 L101.91 508.37 L103.41 507.05 L104.92 505.73 L106.42 504.43 L107.92 503.14 L109.42 501.85 L110.93 500.57 L112.43 499.30 L113.93 498.04 L115.43 496.79 L116.94 495.54 L118.44 494.31 L119.94 493.08 L121.45 491.86 L122.95 490.64 L124.45 489.44 L125.95 488.24 L127.46 487.05 L128.96 485.87 L130.46 484.70 L131.97 483.54 L133.47 482.38 L134.97 481.23 L136.47 480.09 L137.98 478.96 L139.48 477.83 L140.98 476.72 L142.49 475.61 L143.99 474.50 L145.49 473.41 L146.99 472.32 L148.50 471.24 L150.00 470.17 L151.50 469.11 L153.00 468.05 L154.51 467.00 L156.01 465.96 L157.51 464.92 L159.02 463.89 L160.52 462.87 L162.02 461.86 L163.52 460.86 L165.03 459.86 L166.53 458.87 L168.03 457.88 L169.54 456.91 L171.04 455.94 L172.54 454.97 L174.04 454.02 L175.55 453.07 L177.05 452.13 L178.55 451.19 L180.06 450.26 L181.56 449.34 L183.06 448.43 L184.56 447.52 L186.07 446.62 L187.57 445.73 L189.07 444.84 L190.58 443.96 L192.08 443.09 L193.58 442.22 L195.08 441.36 L196.59 440.50 L198.09 439.66 L199.59 438.82 L201.09 437.98 L202.60 437.15 L204.10 436.33 L205.60 435.52 L207.11 434.71 L208.61 433.90 L210.11 433.11 L211.61 432.32 L213.12 431.53 L214.62 430.75 L216.12 429.98 L217.63 429.22 L219.13 428.46 L220.63 427.70 L222.13 426.96 L223.64 426.22 L225.14 425.48 L226.64 424.75 L228.15 424.03 L229.65 423.31 L231.15 422.60 L232.65 421.89 L234.16 421.19 L235.66 420.49 L237.16 419.81 L238.66 419.12 L240.17 418.44 L241.67 417.77 L243.17 417.11 L244.68 416.45 L246.18 415.79 L247.68 415.14 L249.18 414.49 L250.69 413.86 L252.19 413.22 L253.69 412.59 L255.20 411.97 L256.70 411.35 L258.20 410.74 L259.70 410.13 L261.21 409.53 L262.71 408.93 L264.21 408.34 L265.72 407.75 L267.22 407.17 L268.72 406.60 L270.22 406.03 L271.73 405.46 L273.23 404.90 L274.73 404.34 L276.24 403.79 L277.74 403.24 L279.24 402.70 L280.74 402.16 L282.25 401.63 L283.75 401.10 L285.25 400.58 L286.75 400.06 L288.26 399.54 L289.76 399.03 L291.26 398.53 L292.77 398.03 L294.27 397.53 L295.77 397.04 L297.27 396.56 L298.78 396.07 L300.28 395.59 L301.78 395.12 L303.29 394.65 L304.79 394.19 L306.29 393.73 L307.79 393.27 L309.30 392.82 L310.80 392.37 L312.30 391.92 L313.81 391.48 L315.31 391.05 L316.81 390.61 L318.31 390.19 L319.82 389.76 L321.32 389.34 L322.82 388.93 L324.32 388.51 L325.83 388.10 L327.33 387.70 L328.83 387.30 L330.34 386.90 L331.84 386.51 L333.34 386.12 L334.84 385.73 L336.35 385.35 L337.85 384.97 L339.35 384.59 L340.86 384.22 L342.36 383.85 L343.86 383.49 L345.36 383.13 L346.87 382.77 L348.37 382.41 L349.87 382.06 L351.38 381.71 L352.88 381.37 L354.38 381.03 L355.88 380.69 L357.39 380.35 L358.89 380.02 L360.39 379.69 L361.90 379.36 L363.40 379.04 L364.90 378.72 L366.40 378.40 L367.91 378.09 L369.41 377.78 L370.91 377.47 L372.41 377.16 L373.92 376.86 L375.42 376.56 L376.92 376.26 L378.43 375.97 L379.93 375.68 L381.43 375.39 L382.93 375.10 L384.44 374.82 L385.94 374.54 L387.44 374.26 L388.95 373.98 L390.45 373.71 L391.95 373.44 L393.45 373.17 L394.96 372.90 L396.46 372.64 L397.96 372.38 L399.47 372.12 L400.97 371.86 L402.47 371.61 L403.97 371.35 L405.48 371.10 L406.98 370.85 L408.48 370.61 L409.98 370.36 L411.49 370.12 L412.99 369.88 L414.49 369.64 L416.00 369.41 L417.50 369.17 L419.00 368.94 L420.50 368.71 L422.01 368.48 L423.51 368.25 L425.01 368.03 L426.52 367.80 L428.02 367.58 L429.52 367.36 L431.02 367.14 L432.53 366.92 L434.03 366.71 L435.53 366.49 L437.04 366.28 L438.54 366.07 L440.04 365.86 L441.54 365.65 L443.05 365.44 L444.55 365.24 L446.05 365.03 L447.56 364.83 L449.06 364.63 L450.56 364.43 L452.06 364.23 L453.57 364.03 L455.07 363.83 L456.57 363.64 L458.07 363.44 L459.58 363.25 L461.08 363.06 L462.58 362.86 L464.09 362.67 L465.59 362.48 L467.09 362.29 L468.59 362.10 L470.10 361.92 L471.60 361.73" fill="none" stroke="#000" stroke-width="2" stroke-linejoin="round"/>
<path d="M43.30 575.14 L44.80 573.56 L46.31 571.99 L47.81 570.43 L49.31 568.88 L50.81 567.34 L52.32 565.82 L53.82 564.30 L55.32 562.79 L56.83 561.29 L58.33 559.80 L59.83 558.32 L61.33 556.84 L62.84 555.38 L64.34 553.93 L65.84 552.49 L67.34 551.06 L68.85 549.64 L70.35 548.22 L71.85 546.82 L73.36 545.43 L74.86 544.04 L76.36 542.67 L77.86 541.30 L79.37 539.94 L80.87 538.60 L82.37 537.26 L83.88 535.93 L85.38 534.61 L86.88 533.30 L88.38 532.00 L89.89 530.70 L91.39 529.42 L92.89 528.15 L94.40 526.88 L95.90 525.62 L97.40 524.38 L98.90 523.14 L100.41 521.91 L101.91 520.68 L103.41 519.47 L104.92 518.27 L106.42 517.07 L107.92 515.88 L109.42 514.70 L110.93 513.53 L112.43 512.37 L113.93 511.22 L115.43 510.07 L116.94 508.93 L118.44 507.81 L119.94 506.69 L121.45 505.57 L122.95 504.47 L124.45 503.37 L125.95 502.29 L127.46 501.21 L128.96 500.13 L130.46 499.07 L131.97 498.01 L133.47 496.97 L134.97 495.93 L136.47 494.89 L137.98 493.87 L139.48 492.85 L140.98 491.84 L142.49 490.84 L143.99 489.85 L145.49 488.86 L146.99 487.88 L148.50 486.91 L150.00 485.95 L151.50 484.99 L153.00 484.04 L154.51 483.10 L156.01 482.17 L157.51 481.24 L159.02 480.32 L160.52 479.41 L162.02 478.50 L163.52 477.61 L165.03 476.72 L166.53 475.83 L168.03 474.95 L169.54 474.08 L171.04 473.22 L172.54 472.37 L174.04 471.52 L175.55 470.67 L177.05 469.84 L178.55 469.01 L180.06 468.19 L181.56 467.37 L183.06 466.56 L184.56 465.76 L186.07 464.96 L187.57 464.17 L189.07 463.39 L190.58 462.62 L192.08 461.85 L193.58 461.08 L195.08 460.32 L196.59 459.57 L198.09 458.83 L199.59 458.09 L201.09 457.36 L202.60 456.63 L204.10 455.91 L205.60 455.20 L207.11 454.49 L208.61 453.79 L210.11 453.09 L211.61 452.40 L213.12 451.71 L214.62 451.04 L216.12 450.36 L217.63 449.70 L219.13 449.03 L220.63 448.38 L222.13 447.73 L223.64 447.08 L225.14 446.44 L226.64 445.81 L228.15 445.18 L229.65 444.56 L231.15 443.94 L232.65 443.33 L234.16 442.72 L235.66 442.12 L237.16 441.53 L238.66 440.93 L240.17 440.35 L241.67 439.77 L243.17 439.19 L244.68 438.62 L246.18 438.06 L247.68 437.50 L249.18 436.94 L250.69 436.39 L252.19 435.84 L253.69 435.30 L255.20 434.77 L256.70 434.23 L258.20 433.71 L259.70 433.18 L261.21 432.67 L262.71 432.15 L264.21 431.65 L265.72 431.14 L267.22 430.64 L268.72 430.15 L270.22 429.66 L271.73 429.17 L273.23 428.69 L274.73 428.21 L276.24 427.74 L277.74 427.27 L279.24 426.80 L280.74 426.34 L282.25 425.88 L283.75 425.43 L285.25 424.98 L286.75 424.54 L288.26 424.10 L289.76 423.66 L291.26 423.22 L292.77 422.79 L294.27 422.37 L295.77 421.95 L297.27 421.53 L298.78 421.11 L300.28 420.70 L301.78 420.30 L303.29 419.89 L304.79 419.49 L306.29 419.09 L307.79 418.70 L309.30 418.31 L310.80 417.92 L312.30 417.54 L313.81 417.16 L315.31 416.78 L316.81 416.41 L318.31 416.04 L319.82 415.67 L321.32 415.30 L322.82 414.94 L324.32 414.58 L325.83 414.23 L327.33 413.88 L328.83 413.53 L330.34 413.18 L331.84 412.84 L333.34 412.49 L334.84 412.16 L336.35 411.82 L337.85 411.49 L339.35 411.16 L340.86 410.83 L342.36 410.50 L343.86 410.18 L345.36 409.86 L346.87 409.54 L348.37 409.22 L349.87 408.91 L351.38 408.60 L352.88 408.29 L354.38 407.98 L355.88 407.68 L357.39 407.38 L358.89 407.08 L360.39 406.78 L361.90 406.48 L363.40 406.19 L364.90 405.90 L366.40 405.61 L367.91 405.32 L369.41 405.03 L370.91 404.75 L372.41 404.46 L373.92 404.18 L375.42 403.90 L376.92 403.62 L378.43 403.35 L379.93 403.07 L381.43 402.80 L382.93 402.53 L384.44 402.26 L385.94 401.99 L387.44 401.72 L388.95 401.46 L390.45 401.19 L391.95 400.93 L393.45 400.67 L394.96 400.40 L396.46 400.14 L397.96 399.89 L399.47 399.63 L400.97 399.37 L402.47 399.11 L403.97 398.86 L405.48 398.61 L406.98 398.35 L408.48 398.10 L409.98 397.85 L411.49 397.60 L412.99 397.35 L414.49 397.10 L416.00 396.85 L417.50 396.60 L419.00 396.36 L420.50 396.11 L422.01 395.86 L423.51 395.62 L425.01 395.37 L426.52 395.13 L428.02 394.88 L429.52 394.64 L431.02 394.39 L432.53 394.15 L434.03 393.90 L435.53 393.66 L437.04 393.42 L438.54 393.17 L440.04 392.93 L441.54 392.69 L443.05 392.44 L444.55 392.20 L446.05 391.95 L447.56 391.71 L449.06 391.47 L450.56 391.22 L452.06 390.98 L453.57 390.73 L455.07 390.49 L456.57 390.24 L458.07 389.99 L459.58 389.75 L461.08 389.50 L462.58 389.25 L464.09 389.00 L465.59 388.75 L467.09 388.51 L468.59 388.25 L470.10 388.00 L471.60 387.75" fill="none" stroke="#000" stroke-width="2" stroke-linejoin="round"/>
<path d="M43.30 583.97 L44.80 582.56 L46.31 581.15 L47.81 579.75 L49.31 578.37 L50.81 576.99 L52.32 575.62 L53.82 574.25 L55.32 572.90 L56.83 571.56 L58.33 570.22 L59.83 568.90 L61.33 567.58 L62.84 566.27 L64.34 564.97 L65.84 563.68 L67.34 562.39 L68.85 561.12 L70.35 559.85 L71.85 558.60 L73.36 557.35 L74.86 556.11 L76.36 554.87 L77.86 553.65 L79.37 552.44 L80.87 551.23 L82.37 550.03 L83.88 548.84 L85.38 547.66 L86.88 546.48 L88.38 545.32 L89.89 544.16 L91.39 543.01 L92.89 541.87 L94.40 540.74 L95.90 539.61 L97.40 538.49 L98.90 537.39 L100.41 536.28 L101.91 535.19 L103.41 534.11 L104.92 533.03 L106.42 531.96 L107.92 530.90 L109.42 529.84 L110.93 528.80 L112.43 527.76 L113.93 526.73 L115.43 525.70 L116.94 524.69 L118.44 523.68 L119.94 522.68 L121.45 521.69 L122.95 520.70 L124.45 519.72 L125.95 518.75 L127.46 517.79 L128.96 516.83 L130.46 515.88 L131.97 514.94 L133.47 514.01 L134.97 513.08 L136.47 512.16 L137.98 511.25 L139.48 510.35 L140.98 509.45 L142.49 508.56 L143.99 507.67 L145.49 506.80 L146.99 505.93 L148.50 505.06 L150.00 504.21 L151.50 503.36 L153.00 502.52 L154.51 501.68 L156.01 500.85 L157.51 500.03 L159.02 499.22 L160.52 498.41 L162.02 497.61 L163.52 496.82 L165.03 496.03 L166.53 495.25 L168.03 494.47 L169.54 493.70 L171.04 492.94 L172.54 492.19 L174.04 491.44 L175.55 490.70 L177.05 489.96 L178.55 489.23 L180.06 488.51 L181.56 487.79 L183.06 487.08 L184.56 486.38 L186.07 485.68 L187.57 484.99 L189.07 484.31 L190.58 483.63 L192.08 482.95 L193.58 482.29 L195.08 481.63 L196.59 480.97 L198.09 480.32 L199.59 479.68 L201.09 479.04 L202.60 478.41 L204.10 477.79 L205.60 477.17 L207.11 476.56 L208.61 475.95 L210.11 475.35 L211.61 474.75 L213.12 474.16 L214.62 473.57 L216.12 473.00 L217.63 472.42 L219.13 471.85 L220.63 471.29 L222.13 470.74 L223.64 470.18 L225.14 469.64 L226.64 469.10 L228.15 468.56 L229.65 468.03 L231.15 467.51 L232.65 466.99 L234.16 466.48 L235.66 465.97 L237.16 465.46 L238.66 464.97 L240.17 464.47 L241.67 463.99 L243.17 463.50 L244.68 463.03 L246.18 462.55 L247.68 462.09 L249.18 461.62 L250.69 461.17 L252.19 460.71 L253.69 460.26 L255.20 459.82 L256.70 459.38 L258.20 458.95 L259.70 458.52 L261.21 458.10 L262.71 457.68 L264.21 457.26 L265.72 456.86 L267.22 456.45 L268.72 456.05 L270.22 455.65 L271.73 455.26 L273.23 454.88 L274.73 454.49 L276.24 454.11 L277.74 453.74 L279.24 453.37 L280.74 453.01 L282.25 452.65 L283.75 452.29 L285.25 451.94 L286.75 451.59 L288.26 451.25 L289.76 450.91 L291.26 450.57 L292.77 450.24 L294.27 449.91 L295.77 449.59 L297.27 449.27 L298.78 448.96 L300.28 448.65 L301.78 448.34 L303.29 448.04 L304.79 447.74 L306.29 447.44 L307.79 447.15 L309.30 446.86 L310.80 446.58 L312.30 446.30 L313.81 446.02 L315.31 445.75 L316.81 445.48 L318.31 445.21 L319.82 444.95 L321.32 444.69 L322.82 444.44 L324.32 444.18 L325.83 443.94 L327.33 443.69 L328.83 443.45 L330.34 443.21 L331.84 442.98 L333.34 442.75 L334.84 442.52 L336.35 442.29 L337.85 442.07 L339.35 441.85 L340.86 441.64 L342.36 441.42 L343.86 441.21 L345.36 441.01 L346.87 440.81 L348.37 440.61 L349.87 440.41 L351.38 440.21 L352.88 440.02 L354.38 439.83 L355.88 439.65 L357.39 439.47 L358.89 439.29 L360.39 439.11 L361.90 438.93 L363.40 438.76 L364.90 438.59 L366.40 438.43 L367.91 438.26 L369.41 438.10 L370.91 437.94 L372.41 437.79 L373.92 437.63 L375.42 437.48 L376.92 437.33 L378.43 437.19 L379.93 437.04 L381.43 436.90 L382.93 436.76 L384.44 436.63 L385.94 436.49 L387.44 436.36 L388.95 436.23 L390.45 436.10 L391.95 435.97 L393.45 435.85 L394.96 435.73 L396.46 435.61 L397.96 435.49 L399.47 435.37 L400.97 435.26 L402.47 435.15 L403.97 435.04 L405.48 434.93 L406.98 434.82 L408.48 434.72 L409.98 434.62 L411.49 434.51 L412.99 434.42 L414.49 434.32 L416.00 434.22 L417.50 434.13 L419.00 434.03 L420.50 433.94 L422.01 433.85 L423.51 433.76 L425.01 433.68 L426.52 433.59 L428.02 433.51 L429.52 433.43 L431.02 433.35 L432.53 433.27 L434.03 433.19 L435.53 433.11 L437.04 433.03 L438.54 432.96 L440.04 432.88 L441.54 432.81 L443.05 432.74 L444.55 432.67 L446.05 432.60 L447.56 432.53 L449.06 432.47 L450.56 432.40 L452.06 432.33 L453.57 432.27 L455.07 432.21 L456.57 432.14 L458.07 432.08 L459.58 432.02 L461.08 431.96 L462.58 431.90 L464.09 431.84 L465.59 431.78 L467.09 431.72 L468.59 431.67 L470.10 431.61 L471.60 431.55" fill="none" stroke="#000" stroke-width="2" stroke-linejoin="round"/>
<path d="M43.30 589.83 L44.80 588.56 L46.31 587.30 L47.81 586.04 L49.31 584.80 L50.81 583.57 L52.32 582.34 L53.82 581.13 L55.32 579.92 L56.83 578.72 L58.33 577.53 L59.83 576.35 L61.33 575.18 L62.84 574.01 L64.34 572.86 L65.84 571.71 L67.34 570.58 L68.85 569.45 L70.35 568.33 L71.85 567.22 L73.36 566.12 L74.86 565.02 L76.36 563.94 L77.86 562.86 L79.37 561.79 L80.87 560.73 L82.37 559.68 L83.88 558.64 L85.38 557.60 L86.88 556.58 L88.38 555.56 L89.89 554.55 L91.39 553.55 L92.89 552.55 L94.40 551.57 L95.90 550.59 L97.40 549.62 L98.90 548.66 L100.41 547.71 L101.91 546.76 L103.41 545.82 L104.92 544.89 L106.42 543.97 L107.92 543.06 L109.42 542.15 L110.93 541.25 L112.43 540.36 L113.93 539.48 L115.43 538.61 L116.94 537.74 L118.44 536.88 L119.94 536.02 L121.45 535.18 L122.95 534.34 L124.45 533.51 L125.95 532.69 L127.46 531.87 L128.96 531.07 L130.46 530.26 L131.97 529.47 L133.47 528.69 L134.97 527.91 L136.47 527.13 L137.98 526.37 L139.48 525.61 L140.98 524.86 L142.49 524.12 L143.99 523.38 L145.49 522.65 L146.99 521.93 L148.50 521.22 L150.00 520.51 L151.50 519.81 L153.00 519.11 L154.51 518.42 L156.01 517.74 L157.51 517.07 L159.02 516.40 L160.52 515.74 L162.02 515.08 L163.52 514.44 L165.03 513.79 L166.53 513.16 L168.03 512.53 L169.54 511.91 L171.04 511.29 L172.54 510.68 L174.04 510.08 L175.55 509.48 L177.05 508.89 L178.55 508.31 L180.06 507.73 L181.56 507.16 L183.06 506.60 L184.56 506.04 L186.07 505.48 L187.57 504.94 L189.07 504.40 L190.58 503.86 L192.08 503.33 L193.58 502.81 L195.08 502.29 L196.59 501.78 L198.09 501.28 L199.59 500.78 L201.09 500.28 L202.60 499.79 L204.10 499.31 L205.60 498.83 L207.11 498.36 L208.61 497.90 L210.11 497.44 L211.61 496.98 L213.12 496.53 L214.62 496.09 L216.12 495.65 L217.63 495.22 L219.13 494.79 L220.63 494.37 L222.13 493.96 L223.64 493.54 L225.14 493.14 L226.64 492.74 L228.15 492.34 L229.65 491.95 L231.15 491.56 L232.65 491.18 L234.16 490.81 L235.66 490.44 L237.16 490.07 L238.66 489.71 L240.17 489.36 L241.67 489.01 L243.17 488.66 L244.68 488.32 L246.18 487.98 L247.68 487.65 L249.18 487.33 L250.69 487.00 L252.19 486.69 L253.69 486.37 L255.20 486.06 L256.70 485.76 L258.20 485.46 L259.70 485.17 L261.21 484.88 L262.71 484.59 L264.21 484.31 L265.72 484.03 L267.22 483.76 L268.72 483.49 L270.22 483.23 L271.73 482.97 L273.23 482.71 L274.73 482.46 L276.24 482.21 L277.74 481.97 L279.24 481.73 L280.74 481.49 L282.25 481.26 L283.75 481.03 L285.25 480.81 L286.75 480.59 L288.26 480.37 L289.76 480.16 L291.26 479.95 L292.77 479.75 L294.27 479.55 L295.77 479.35 L297.27 479.15 L298.78 478.96 L300.28 478.78 L301.78 478.59 L303.29 478.42 L304.79 478.24 L306.29 478.07 L307.79 477.90 L309.30 477.73 L310.80 477.57 L312.30 477.41 L313.81 477.26 L315.31 477.10 L316.81 476.95 L318.31 476.81 L319.82 476.66 L321.32 476.52 L322.82 476.39 L324.32 476.25 L325.83 476.12 L327.33 476.00 L328.83 475.87 L330.34 475.75 L331.84 475.63 L333.34 475.51 L334.84 475.40 L336.35 475.29 L337.85 475.18 L339.35 475.08 L340.86 474.98 L342.36 474.88 L343.86 474.78 L345.36 474.68 L346.87 474.59 L348.37 474.50 L349.87 474.42 L351.38 474.33 L352.88 474.25 L354.38 474.17 L355.88 474.09 L357.39 474.02 L358.89 473.95 L360.39 473.88 L361.90 473.81 L363.40 473.74 L364.90 473.68 L366.40 473.62 L367.91 473.56 L369.41 473.50 L370.91 473.44 L372.41 473.39 L373.92 473.34 L375.42 473.29 L376.92 473.24 L378.43 473.20 L379.93 473.15 L381.43 473.11 L382.93 473.07 L384.44 473.03 L385.94 472.99 L387.44 472.96 L388.95 472.92 L390.45 472.89 L391.95 472.86 L393.45 472.83 L394.96 472.80 L396.46 472.78 L397.96 472.75 L399.47 472.73 L400.97 472.71 L402.47 472.69 L403.97 472.67 L405.48 472.65 L406.98 472.63 L408.48 472.62 L409.98 472.60 L411.49 472.59 L412.99 472.58 L414.49 472.57 L416.00 472.56 L417.50 472.55 L419.00 472.54 L420.50 472.53 L422.01 472.53 L423.51 472.52 L425.01 472.52 L426.52 472.51 L428.02 472.51 L429.52 472.51 L431.02 472.51 L432.53 472.51 L434.03 472.50 L435.53 472.51 L437.04 472.51 L438.54 472.51 L440.04 472.51 L441.54 472.51 L443.05 472.51 L444.55 472.52 L446.05 472.52 L447.56 472.53 L449.06 472.53 L450.56 472.53 L452.06 472.54 L453.57 472.54 L455.07 472.55 L456.57 472.55 L458.07 472.56 L459.58 472.57 L461.08 472.57 L462.58 472.58 L464.09 472.58 L465.59 472.59 L467.09 472.59 L468.59 472.60 L470.10 472.60 L471.60 472.61" fill="none" stroke="#000" stroke-width="2" stroke-linejoin="round"/>
<path d="M47.30 590.22 L48.80 589.09 L50.31 587.98 L51.81 586.87 L53.32 585.78 L54.82 584.69 L56.33 583.62 L57.83 582.55 L59.34 581.50 L60.84 580.46 L62.35 579.42 L63.85 578.40 L65.36 577.39 L66.86 576.39 L68.36 575.39 L69.87 574.41 L71.37 573.44 L72.88 572.48 L74.38 571.52 L75.89 570.58 L77.39 569.65 L78.90 568.73 L80.40 567.81 L81.91 566.91 L83.41 566.02 L84.92 565.13 L86.42 564.26 L87.92 563.39 L89.43 562.54 L90.93 561.69 L92.44 560.85 L93.94 560.02 L95.45 559.20 L96.95 558.40 L98.46 557.59 L99.96 556.80 L101.47 556.02 L102.97 555.25 L104.48 554.48 L105.98 553.73 L107.48 552.98 L108.99 552.24 L110.49 551.51 L112.00 550.79 L113.50 550.08 L115.01 549.38 L116.51 548.68 L118.02 548.00 L119.52 547.32 L121.03 546.65 L122.53 545.99 L124.04 545.33 L125.54 544.69 L127.04 544.05 L128.55 543.43 L130.05 542.81 L131.56 542.19 L133.06 541.59 L134.57 540.99 L136.07 540.40 L137.58 539.82 L139.08 539.25 L140.59 538.69 L142.09 538.13 L143.60 537.58 L145.10 537.04 L146.60 536.50 L148.11 535.98 L149.61 535.46 L151.12 534.95 L152.62 534.44 L154.13 533.94 L155.63 533.45 L157.14 532.97 L158.64 532.50 L160.15 532.03 L161.65 531.57 L163.15 531.11 L164.66 530.66 L166.16 530.22 L167.67 529.79 L169.17 529.36 L170.68 528.94 L172.18 528.53 L173.69 528.12 L175.19 527.72 L176.70 527.33 L178.20 526.94 L179.71 526.56 L181.21 526.19 L182.71 525.82 L184.22 525.46 L185.72 525.11 L187.23 524.76 L188.73 524.41 L190.24 524.08 L191.74 523.75 L193.25 523.42 L194.75 523.11 L196.26 522.79 L197.76 522.49 L199.27 522.19 L200.77 521.89 L202.27 521.60 L203.78 521.32 L205.28 521.04 L206.79 520.77 L208.29 520.50 L209.80 520.24 L211.30 519.99 L212.81 519.74 L214.31 519.49 L215.82 519.25 L217.32 519.02 L218.83 518.79 L220.33 518.57 L221.83 518.35 L223.34 518.14 L224.84 517.93 L226.35 517.72 L227.85 517.53 L229.36 517.33 L230.86 517.14 L232.37 516.96 L233.87 516.78 L235.38 516.61 L236.88 516.44 L238.39 516.27 L239.89 516.11 L241.39 515.95 L242.90 515.80 L244.40 515.65 L245.91 515.51 L247.41 515.37 L248.92 515.24 L250.42 515.11 L251.93 514.98 L253.43 514.86 L254.94 514.74 L256.44 514.63 L257.95 514.52 L259.45 514.41 L260.95 514.31 L262.46 514.21 L263.96 514.11 L265.47 514.02 L266.97 513.94 L268.48 513.85 L269.98 513.77 L271.49 513.69 L272.99 513.62 L274.50 513.55 L276.00 513.48 L277.51 513.42 L279.01 513.36 L280.51 513.30 L282.02 513.25 L283.52 513.20 L285.03 513.15 L286.53 513.11 L288.04 513.07 L289.54 513.03 L291.05 512.99 L292.55 512.96 L294.06 512.93 L295.56 512.90 L297.07 512.88 L298.57 512.86 L300.07 512.84 L301.58 512.82 L303.08 512.80 L304.59 512.79 L306.09 512.78 L307.60 512.78 L309.10 512.77 L310.61 512.77 L312.11 512.77 L313.62 512.77 L315.12 512.77 L316.63 512.78 L318.13 512.79 L319.63 512.80 L321.14 512.81 L322.64 512.82 L324.15 512.84 L325.65 512.85 L327.16 512.87 L328.66 512.89 L330.17 512.91 L331.67 512.94 L333.18 512.96 L334.68 512.99 L336.19 513.02 L337.69 513.05 L339.19 513.08 L340.70 513.11 L342.20 513.14 L343.71 513.18 L345.21 513.21 L346.72 513.25 L348.22 513.29 L349.73 513.32 L351.23 513.36 L352.74 513.40 L354.24 513.45 L355.75 513.49 L357.25 513.53 L358.75 513.57 L360.26 513.62 L361.76 513.66 L363.27 513.71 L364.77 513.75 L366.28 513.80 L367.78 513.84 L369.29 513.89 L370.79 513.94 L372.30 513.98 L373.80 514.03 L375.30 514.08 L376.81 514.13 L378.31 514.17 L379.82 514.22 L381.32 514.27 L382.83 514.32 L384.33 514.36 L385.84 514.41 L387.34 514.46 L388.85 514.51 L390.35 514.55 L391.86 514.60 L393.36 514.64 L394.86 514.69 L396.37 514.73 L397.87 514.78 L399.38 514.82 L400.88 514.86 L402.39 514.90 L403.89 514.94 L405.40 514.98 L406.90 515.02 L408.41 515.06 L409.91 515.10 L411.42 515.14 L412.92 515.17 L414.42 515.20 L415.93 515.24 L417.43 515.27 L418.94 515.30 L420.44 515.33 L421.95 515.36 L423.45 515.38 L424.96 515.41 L426.46 515.43 L427.97 515.45 L429.47 515.47 L430.98 515.49 L432.48 515.51 L433.98 515.52 L435.49 515.54 L436.99 515.55 L438.50 515.56 L440.00 515.56 L441.51 515.57 L443.01 515.57 L444.52 515.57 L446.02 515.57 L447.53 515.57 L449.03 515.57 L450.54 515.56 L452.04 515.55 L453.54 515.54 L455.05 515.52 L456.55 515.50 L458.06 515.48 L459.56 515.46 L461.07 515.44 L462.57 515.41 L464.08 515.38 L465.58 515.34 L467.09 515.31 L468.59 515.27 L470.10 515.23 L471.60 515.18" fill="none" stroke="#000" stroke-width="2" stroke-linejoin="round"/>
<path d="M51.70 590.08 L53.21 589.14 L54.71 588.20 L56.22 587.28 L57.72 586.37 L59.23 585.47 L60.73 584.58 L62.24 583.70 L63.74 582.83 L65.25 581.97 L66.75 581.12 L68.26 580.29 L69.76 579.46 L71.27 578.64 L72.77 577.84 L74.28 577.04 L75.78 576.26 L77.29 575.48 L78.79 574.72 L80.30 573.96 L81.80 573.22 L83.31 572.48 L84.81 571.76 L86.32 571.04 L87.82 570.34 L89.33 569.64 L90.83 568.95 L92.34 568.28 L93.84 567.61 L95.35 566.95 L96.85 566.30 L98.36 565.66 L99.86 565.03 L101.37 564.41 L102.87 563.80 L104.38 563.20 L105.88 562.60 L107.39 562.02 L108.89 561.44 L110.40 560.88 L111.90 560.32 L113.41 559.77 L114.91 559.23 L116.42 558.69 L117.92 558.17 L119.43 557.65 L120.93 557.14 L122.44 556.64 L123.94 556.15 L125.45 555.67 L126.95 555.19 L128.46 554.73 L129.96 554.27 L131.47 553.82 L132.97 553.37 L134.48 552.94 L135.98 552.51 L137.49 552.09 L138.99 551.67 L140.50 551.27 L142.00 550.87 L143.51 550.48 L145.01 550.10 L146.52 549.72 L148.02 549.35 L149.53 548.99 L151.03 548.63 L152.54 548.29 L154.04 547.94 L155.55 547.61 L157.05 547.28 L158.56 546.96 L160.06 546.65 L161.57 546.34 L163.07 546.04 L164.58 545.75 L166.08 545.46 L167.59 545.18 L169.09 544.90 L170.60 544.63 L172.10 544.37 L173.61 544.11 L175.11 543.86 L176.62 543.61 L178.12 543.38 L179.63 543.14 L181.13 542.91 L182.64 542.69 L184.14 542.48 L185.65 542.27 L187.15 542.06 L188.66 541.86 L190.16 541.67 L191.67 541.48 L193.17 541.29 L194.68 541.12 L196.18 540.94 L197.69 540.77 L199.19 540.61 L200.70 540.45 L202.20 540.30 L203.71 540.15 L205.21 540.01 L206.72 539.87 L208.22 539.73 L209.73 539.60 L211.23 539.48 L212.74 539.35 L214.24 539.24 L215.75 539.12 L217.25 539.02 L218.76 538.91 L220.26 538.81 L221.77 538.72 L223.27 538.62 L224.78 538.54 L226.28 538.45 L227.79 538.37 L229.29 538.29 L230.80 538.22 L232.30 538.15 L233.81 538.09 L235.31 538.02 L236.82 537.96 L238.32 537.91 L239.83 537.86 L241.33 537.81 L242.84 537.76 L244.34 537.72 L245.85 537.68 L247.35 537.64 L248.86 537.61 L250.36 537.57 L251.87 537.55 L253.37 537.52 L254.88 537.50 L256.38 537.48 L257.89 537.46 L259.39 537.44 L260.90 537.43 L262.40 537.42 L263.91 537.41 L265.41 537.40 L266.92 537.40 L268.42 537.39 L269.93 537.39 L271.43 537.40 L272.94 537.40 L274.44 537.40 L275.95 537.41 L277.45 537.42 L278.96 537.43 L280.46 537.44 L281.97 537.45 L283.47 537.47 L284.98 537.49 L286.48 537.50 L287.99 537.52 L289.49 537.54 L291.00 537.56 L292.50 537.58 L294.01 537.61 L295.51 537.63 L297.02 537.65 L298.52 537.68 L300.03 537.71 L301.53 537.73 L303.04 537.76 L304.54 537.79 L306.05 537.82 L307.55 537.85 L309.06 537.87 L310.56 537.90 L312.07 537.93 L313.57 537.96 L315.08 537.99 L316.58 538.02 L318.09 538.05 L319.59 538.08 L321.10 538.11 L322.60 538.14 L324.11 538.17 L325.61 538.20 L327.12 538.23 L328.62 538.25 L330.13 538.28 L331.63 538.31 L333.14 538.33 L334.64 538.36 L336.15 538.38 L337.65 538.41 L339.16 538.43 L340.66 538.45 L342.17 538.47 L343.67 538.49 L345.18 538.51 L346.68 538.53 L348.19 538.54 L349.69 538.55 L351.20 538.57 L352.70 538.58 L354.21 538.59 L355.71 538.60 L357.22 538.60 L358.72 538.61 L360.23 538.61 L361.73 538.61 L363.24 538.61 L364.74 538.61 L366.25 538.60 L367.75 538.59 L369.26 538.58 L370.76 538.57 L372.27 538.56 L373.77 538.54 L375.28 538.52 L376.78 538.50 L378.29 538.48 L379.79 538.45 L381.30 538.42 L382.80 538.39 L384.31 538.35 L385.81 538.31 L387.32 538.27 L388.82 538.23 L390.33 538.18 L391.83 538.13 L393.34 538.08 L394.84 538.02 L396.35 537.96 L397.85 537.89 L399.36 537.83 L400.86 537.76 L402.37 537.68 L403.87 537.60 L405.38 537.52 L406.88 537.44 L408.39 537.35 L409.89 537.25 L411.40 537.15 L412.90 537.05 L414.41 536.95 L415.91 536.84 L417.42 536.72 L418.92 536.60 L420.43 536.48 L421.93 536.35 L423.44 536.22 L424.94 536.09 L426.45 535.94 L427.95 535.80 L429.46 535.65 L430.96 535.49 L432.47 535.33 L433.97 535.17 L435.48 535.00 L436.98 534.82 L438.49 534.64 L439.99 534.46 L441.50 534.26 L443.00 534.07 L444.51 533.87 L446.01 533.66 L447.52 533.45 L449.02 533.23 L450.53 533.00 L452.03 532.77 L453.54 532.54 L455.04 532.30 L456.55 532.05 L458.05 531.80 L459.56 531.54 L461.06 531.27 L462.57 531.00 L464.07 530.72 L465.58 530.44 L467.08 530.15 L468.59 529.85 L470.09 529.55 L471.60 529.24" fill="none" stroke="#000" stroke-width="2" stroke-linejoin="round"/>
<path d="M43.00 576.02 L44.50 574.12 L46.00 572.24 L47.50 570.37 L49.00 568.51 L50.50 566.65 L52.01 564.81 L53.51 562.97 L55.01 561.14 L56.51 559.33 L58.01 557.52 L59.51 555.72 L61.01 553.93 L62.51 552.15 L64.01 550.38 L65.51 548.62 L67.01 546.86 L68.52 545.12 L70.02 543.39 L71.52 541.66 L73.02 539.94 L74.52 538.24 L76.02 536.54 L77.52 534.85 L79.02 533.17 L80.52 531.50 L82.02 529.84 L83.53 528.18 L85.03 526.54 L86.53 524.90 L88.03 523.28 L89.53 521.66 L91.03 520.05 L92.53 518.45 L94.03 516.86 L95.53 515.28 L97.03 513.71 L98.53 512.15 L100.04 510.59 L101.54 509.04 L103.04 507.51 L104.54 505.98 L106.04 504.46 L107.54 502.95 L109.04 501.44 L110.54 499.95 L112.04 498.47 L113.54 496.99 L115.04 495.52 L116.55 494.06 L118.05 492.61 L119.55 491.17 L121.05 489.74 L122.55 488.31 L124.05 486.90 L125.55 485.49 L127.05 484.09 L128.55 482.70 L130.05 481.32 L131.56 479.95 L133.06 478.58 L134.56 477.23 L136.06 475.88 L137.56 474.54 L139.06 473.21 L140.56 471.88 L142.06 470.57 L143.56 469.26 L145.06 467.97 L146.56 466.68 L148.07 465.40 L149.57 464.13 L151.07 462.86 L152.57 461.61 L154.07 460.36 L155.57 459.12 L157.07 457.89 L158.57 456.66 L160.07 455.45 L161.57 454.24 L163.07 453.05 L164.58 451.86 L166.08 450.67 L167.58 449.50 L169.08 448.33 L170.58 447.18 L172.08 446.03 L173.58 444.89 L175.08 443.75 L176.58 442.63 L178.08 441.51 L179.59 440.40 L181.09 439.30 L182.59 438.21 L184.09 437.12 L185.59 436.04 L187.09 434.97 L188.59 433.91 L190.09 432.86 L191.59 431.81 L193.09 430.77 L194.59 429.74 L196.10 428.72 L197.60 427.71 L199.10 426.70 L200.60 425.70 L202.10 424.71 L203.60 423.73 L205.10 422.75 L206.60 421.79 L208.10 420.83 L209.60 419.87 L211.10 418.93 L212.61 417.99 L214.11 417.06 L215.61 416.14 L217.11 415.23 L218.61 414.32 L220.11 413.42 L221.61 412.53 L223.11 411.65 L224.61 410.77 L226.11 409.90 L227.61 409.04 L229.12 408.19 L230.62 407.34 L232.12 406.50 L233.62 405.67 L235.12 404.85 L236.62 404.03 L238.12 403.22 L239.62 402.42 L241.12 401.63 L242.62 400.84 L244.13 400.06 L245.63 399.29 L247.13 398.52 L248.63 397.76 L250.13 397.01 L251.63 396.27 L253.13 395.54 L254.63 394.81 L256.13 394.09 L257.63 393.37 L259.13 392.67 L260.64 391.97 L262.14 391.27 L263.64 390.59 L265.14 389.91 L266.64 389.24 L268.14 388.57 L269.64 387.92 L271.14 387.27 L272.64 386.62 L274.14 385.99 L275.64 385.36 L277.15 384.74 L278.65 384.12 L280.15 383.52 L281.65 382.91 L283.15 382.32 L284.65 381.73 L286.15 381.15 L287.65 380.58 L289.15 380.01 L290.65 379.46 L292.16 378.90 L293.66 378.36 L295.16 377.82 L296.66 377.29 L298.16 376.76 L299.66 376.24 L301.16 375.73 L302.66 375.23 L304.16 374.73 L305.66 374.24 L307.16 373.75 L308.67 373.27 L310.17 372.80 L311.67 372.34 L313.17 371.88 L314.67 371.43 L316.17 370.98 L317.67 370.54 L319.17 370.11 L320.67 369.69 L322.17 369.27 L323.67 368.86 L325.18 368.45 L326.68 368.05 L328.18 367.66 L329.68 367.27 L331.18 366.89 L332.68 366.52 L334.18 366.15 L335.68 365.79 L337.18 365.44 L338.68 365.09 L340.19 364.75 L341.69 364.41 L343.19 364.08 L344.69 363.76 L346.19 363.45 L347.69 363.14 L349.19 362.83 L350.69 362.53 L352.19 362.24 L353.69 361.96 L355.19 361.68 L356.70 361.41 L358.20 361.14 L359.70 360.88 L361.20 360.63 L362.70 360.38 L364.20 360.14" fill="none" stroke="#d41c2c" stroke-width="2.25" stroke-dasharray="15.7 6.9"/>
<text x="29.6" y="593.65" text-anchor="end" font-size="11" fill="#222">0</text>
<text x="29.6" y="512.57" text-anchor="end" font-size="11" fill="#222">5</text>
<text x="29.6" y="431.48" text-anchor="end" font-size="11" fill="#222">10</text>
<text x="29.6" y="350.40" text-anchor="end" font-size="11" fill="#222">15</text>
<text x="39.40" y="608" text-anchor="middle" font-size="11" fill="#222">0</text>
<text x="93.43" y="608" text-anchor="middle" font-size="11" fill="#222">12</text>
<text x="147.45" y="608" text-anchor="middle" font-size="11" fill="#222">24</text>
<text x="201.48" y="608" text-anchor="middle" font-size="11" fill="#222">36</text>
<text x="255.50" y="608" text-anchor="middle" font-size="11" fill="#222">48</text>
<text x="309.52" y="608" text-anchor="middle" font-size="11" fill="#222">60</text>
<text x="363.55" y="608" text-anchor="middle" font-size="11" fill="#222">72</text>
<text x="417.58" y="608" text-anchor="middle" font-size="11" fill="#222">84</text>
<text x="471.60" y="608" text-anchor="middle" font-size="11" fill="#222">96</text>
<text x="218.4" y="331" font-size="12" fill="#222">Sternum</text>
<text x="207.6" y="625" font-size="11.25" fill="#222">Postnatal age (hour)</text>
<text transform="translate(10.9,466) rotate(-90)" text-anchor="middle" font-size="11.5" fill="#222">TcB, mg/dL</text>
<text x="3" y="327.8" font-size="11" font-weight="bold" fill="#000">B</text>
<text x="438.5" y="356.8" text-anchor="end" font-size="10.5" fill="#262626" stroke="#262626" stroke-width="0.22">95<tspan font-size="6.5" dy="-3.9">th</tspan><tspan dy="3.9"> percentile</tspan></text>
<text x="436.6" y="386.5" text-anchor="end" font-size="10.5" fill="#262626" stroke="#262626" stroke-width="0.22">90<tspan font-size="6.5" dy="-3.9">th</tspan><tspan dy="3.9"> percentile</tspan></text>
<text x="436" y="415.8" text-anchor="end" font-size="10.5" fill="#262626" stroke="#262626" stroke-width="0.22">75<tspan font-size="6.5" dy="-3.9">th</tspan><tspan dy="3.9"> percentile</tspan></text>
<text x="436" y="451.3" text-anchor="end" font-size="10.5" fill="#262626" stroke="#262626" stroke-width="0.22">50<tspan font-size="6.5" dy="-3.9">th</tspan><tspan dy="3.9"> percentile</tspan></text>
<text x="436" y="487.5" text-anchor="end" font-size="10.5" fill="#262626" stroke="#262626" stroke-width="0.22">25<tspan font-size="6.5" dy="-3.9">th</tspan><tspan dy="3.9"> percentile</tspan></text>
<text x="436" y="530.8" text-anchor="end" font-size="10.5" fill="#262626" stroke="#262626" stroke-width="0.22">10<tspan font-size="6.5" dy="-3.9">th</tspan><tspan dy="3.9"> percentile</tspan></text>
<text x="434.5" y="555.2" text-anchor="end" font-size="10.5" fill="#262626" stroke="#262626" stroke-width="0.22">5<tspan font-size="6.5" dy="-3.9">th</tspan><tspan dy="3.9"> percentile</tspan></text>
<text x="189" y="375.2" font-size="10" font-weight="bold" fill="#ae1a28">50<tspan font-size="6.6" dy="-4.1">th</tspan><tspan dy="4.1" dx="0.6"> percentile</tspan></text>
<text x="189" y="387.1" font-size="10" font-weight="bold" fill="#ae1a28">phototheraphy</text>
</svg>
</body></html>
